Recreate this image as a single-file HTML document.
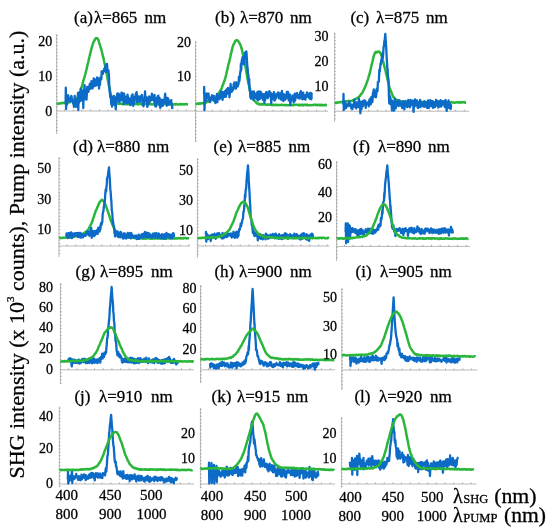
<!DOCTYPE html>
<html><head><meta charset="utf-8"><title>SHG spectra</title><style>html,body{margin:0;padding:0;background:#fff}svg{display:block}svg text{font-family:"Liberation Serif",serif}</style></head><body>
<svg width="550" height="530" viewBox="0 0 550 530">
<rect width="550" height="530" fill="#fff"/>
<g stroke="#b9b9b9" stroke-width="1" fill="none"><line x1="56.6" y1="34" x2="56.6" y2="134" /><line x1="56.6" y1="111" x2="195.5" y2="111" /><line x1="195.5" y1="41" x2="195.5" y2="142" /><line x1="195.5" y1="111.2" x2="328" y2="111.2" /><line x1="334.6" y1="32.4" x2="334.6" y2="122" /><line x1="334.6" y1="111.2" x2="469" y2="111.2" /><line x1="59" y1="157" x2="59" y2="257" /><line x1="59" y1="246" x2="190" y2="246" /><line x1="197.4" y1="158" x2="197.4" y2="258" /><line x1="197.4" y1="246" x2="329.5" y2="246" /><line x1="336.5" y1="161" x2="336.5" y2="261" /><line x1="336.5" y1="246.4" x2="470" y2="246.4" /><line x1="60.4" y1="283" x2="60.4" y2="384" /><line x1="60.4" y1="369.8" x2="194" y2="369.8" /><line x1="200.5" y1="285" x2="200.5" y2="383" /><line x1="200.5" y1="369.8" x2="335" y2="369.8" /><line x1="341.8" y1="288" x2="341.8" y2="390" /><line x1="341.8" y1="370" x2="477.5" y2="370" /><line x1="59.3" y1="406.6" x2="59.3" y2="487" /><line x1="59.3" y1="484" x2="194" y2="484" /><line x1="200.4" y1="408" x2="200.4" y2="487.8" /><line x1="200.4" y1="484" x2="335" y2="484" /><line x1="341.4" y1="417" x2="341.4" y2="487.5" /><line x1="341.4" y1="484" x2="476.5" y2="484" /></g>
<path d="M56.3,35.5h1.5M56.3,38.9h1.5M56.3,42.3h1.5M56.3,45.7h1.5M56.3,49.1h1.5M56.3,52.5h1.5M56.3,55.9h1.5M56.3,59.3h1.5M56.3,62.7h1.5M56.3,66.1h1.5M56.3,69.5h1.5M56.3,72.9h1.5M56.3,76.3h1.5M56.3,79.7h1.5M56.3,83.1h1.5M56.3,86.5h1.5M56.3,89.9h1.5M56.3,93.3h1.5M56.3,96.7h1.5M56.3,100.1h1.5M56.3,103.5h1.5M56.3,106.9h1.5M56.3,110.3h1.5M56.3,113.7h1.5M56.3,117.1h1.5M56.3,120.5h1.5M56.3,123.9h1.5M56.3,127.3h1.5M56.3,130.7h1.5M64.6,109.5v1.5M73.3,109.5v1.5M82.0,109.5v1.5M90.7,109.5v1.5M99.4,109.5v1.5M108.1,109.5v1.5M116.8,109.5v1.5M125.5,109.5v1.5M134.2,109.5v1.5M142.9,109.5v1.5M151.6,109.5v1.5M160.3,109.5v1.5M169.0,109.5v1.5M177.7,109.5v1.5M186.4,109.5v1.5M195.1,109.5v1.5M195.2,42.5h1.5M195.2,45.9h1.5M195.2,49.3h1.5M195.2,52.7h1.5M195.2,56.1h1.5M195.2,59.5h1.5M195.2,62.9h1.5M195.2,66.3h1.5M195.2,69.7h1.5M195.2,73.1h1.5M195.2,76.5h1.5M195.2,79.9h1.5M195.2,83.3h1.5M195.2,86.7h1.5M195.2,90.1h1.5M195.2,93.5h1.5M195.2,96.9h1.5M195.2,100.3h1.5M195.2,103.7h1.5M195.2,107.1h1.5M195.2,110.5h1.5M195.2,113.9h1.5M195.2,117.3h1.5M195.2,120.7h1.5M195.2,124.1h1.5M195.2,127.5h1.5M195.2,130.9h1.5M195.2,134.3h1.5M195.2,137.7h1.5M195.2,141.1h1.5M203.5,109.7v1.5M212.2,109.7v1.5M220.9,109.7v1.5M229.6,109.7v1.5M238.3,109.7v1.5M247.0,109.7v1.5M255.7,109.7v1.5M264.4,109.7v1.5M273.1,109.7v1.5M281.8,109.7v1.5M290.5,109.7v1.5M299.2,109.7v1.5M307.9,109.7v1.5M316.6,109.7v1.5M325.3,109.7v1.5M334.3,33.9h1.5M334.3,37.3h1.5M334.3,40.7h1.5M334.3,44.1h1.5M334.3,47.5h1.5M334.3,50.9h1.5M334.3,54.3h1.5M334.3,57.7h1.5M334.3,61.1h1.5M334.3,64.5h1.5M334.3,67.9h1.5M334.3,71.3h1.5M334.3,74.7h1.5M334.3,78.1h1.5M334.3,81.5h1.5M334.3,84.9h1.5M334.3,88.3h1.5M334.3,91.7h1.5M334.3,95.1h1.5M334.3,98.5h1.5M334.3,101.9h1.5M334.3,105.3h1.5M334.3,108.7h1.5M334.3,112.1h1.5M334.3,115.5h1.5M334.3,118.9h1.5M342.6,109.7v1.5M351.3,109.7v1.5M360.0,109.7v1.5M368.7,109.7v1.5M377.4,109.7v1.5M386.1,109.7v1.5M394.8,109.7v1.5M403.5,109.7v1.5M412.2,109.7v1.5M420.9,109.7v1.5M429.6,109.7v1.5M438.3,109.7v1.5M447.0,109.7v1.5M455.7,109.7v1.5M464.4,109.7v1.5M58.7,158.5h1.5M58.7,161.9h1.5M58.7,165.3h1.5M58.7,168.7h1.5M58.7,172.1h1.5M58.7,175.5h1.5M58.7,178.9h1.5M58.7,182.3h1.5M58.7,185.7h1.5M58.7,189.1h1.5M58.7,192.5h1.5M58.7,195.9h1.5M58.7,199.3h1.5M58.7,202.7h1.5M58.7,206.1h1.5M58.7,209.5h1.5M58.7,212.9h1.5M58.7,216.3h1.5M58.7,219.7h1.5M58.7,223.1h1.5M58.7,226.5h1.5M58.7,229.9h1.5M58.7,233.3h1.5M58.7,236.7h1.5M58.7,240.1h1.5M58.7,243.5h1.5M58.7,246.9h1.5M58.7,250.3h1.5M58.7,253.7h1.5M67.0,244.5v1.5M75.7,244.5v1.5M84.4,244.5v1.5M93.1,244.5v1.5M101.8,244.5v1.5M110.5,244.5v1.5M119.2,244.5v1.5M127.9,244.5v1.5M136.6,244.5v1.5M145.3,244.5v1.5M154.0,244.5v1.5M162.7,244.5v1.5M171.4,244.5v1.5M180.1,244.5v1.5M188.8,244.5v1.5M197.1,159.5h1.5M197.1,162.9h1.5M197.1,166.3h1.5M197.1,169.7h1.5M197.1,173.1h1.5M197.1,176.5h1.5M197.1,179.9h1.5M197.1,183.3h1.5M197.1,186.7h1.5M197.1,190.1h1.5M197.1,193.5h1.5M197.1,196.9h1.5M197.1,200.3h1.5M197.1,203.7h1.5M197.1,207.1h1.5M197.1,210.5h1.5M197.1,213.9h1.5M197.1,217.3h1.5M197.1,220.7h1.5M197.1,224.1h1.5M197.1,227.5h1.5M197.1,230.9h1.5M197.1,234.3h1.5M197.1,237.7h1.5M197.1,241.1h1.5M197.1,244.5h1.5M197.1,247.9h1.5M197.1,251.3h1.5M197.1,254.7h1.5M205.4,244.5v1.5M214.1,244.5v1.5M222.8,244.5v1.5M231.5,244.5v1.5M240.2,244.5v1.5M248.9,244.5v1.5M257.6,244.5v1.5M266.3,244.5v1.5M275.0,244.5v1.5M283.7,244.5v1.5M292.4,244.5v1.5M301.1,244.5v1.5M309.8,244.5v1.5M318.5,244.5v1.5M327.2,244.5v1.5M336.2,162.5h1.5M336.2,165.9h1.5M336.2,169.3h1.5M336.2,172.7h1.5M336.2,176.1h1.5M336.2,179.5h1.5M336.2,182.9h1.5M336.2,186.3h1.5M336.2,189.7h1.5M336.2,193.1h1.5M336.2,196.5h1.5M336.2,199.9h1.5M336.2,203.3h1.5M336.2,206.7h1.5M336.2,210.1h1.5M336.2,213.5h1.5M336.2,216.9h1.5M336.2,220.3h1.5M336.2,223.7h1.5M336.2,227.1h1.5M336.2,230.5h1.5M336.2,233.9h1.5M336.2,237.3h1.5M336.2,240.7h1.5M336.2,244.1h1.5M336.2,247.5h1.5M336.2,250.9h1.5M336.2,254.3h1.5M336.2,257.7h1.5M344.5,244.9v1.5M353.2,244.9v1.5M361.9,244.9v1.5M370.6,244.9v1.5M379.3,244.9v1.5M388.0,244.9v1.5M396.7,244.9v1.5M405.4,244.9v1.5M414.1,244.9v1.5M422.8,244.9v1.5M431.5,244.9v1.5M440.2,244.9v1.5M448.9,244.9v1.5M457.6,244.9v1.5M466.3,244.9v1.5M60.1,284.5h1.5M60.1,287.9h1.5M60.1,291.3h1.5M60.1,294.7h1.5M60.1,298.1h1.5M60.1,301.5h1.5M60.1,304.9h1.5M60.1,308.3h1.5M60.1,311.7h1.5M60.1,315.1h1.5M60.1,318.5h1.5M60.1,321.9h1.5M60.1,325.3h1.5M60.1,328.7h1.5M60.1,332.1h1.5M60.1,335.5h1.5M60.1,338.9h1.5M60.1,342.3h1.5M60.1,345.7h1.5M60.1,349.1h1.5M60.1,352.5h1.5M60.1,355.9h1.5M60.1,359.3h1.5M60.1,362.7h1.5M60.1,366.1h1.5M60.1,369.5h1.5M60.1,372.9h1.5M60.1,376.3h1.5M60.1,379.7h1.5M60.1,383.1h1.5M68.4,368.3v1.5M77.1,368.3v1.5M85.8,368.3v1.5M94.5,368.3v1.5M103.2,368.3v1.5M111.9,368.3v1.5M120.6,368.3v1.5M129.3,368.3v1.5M138.0,368.3v1.5M146.7,368.3v1.5M155.4,368.3v1.5M164.1,368.3v1.5M172.8,368.3v1.5M181.5,368.3v1.5M190.2,368.3v1.5M200.2,286.5h1.5M200.2,289.9h1.5M200.2,293.3h1.5M200.2,296.7h1.5M200.2,300.1h1.5M200.2,303.5h1.5M200.2,306.9h1.5M200.2,310.3h1.5M200.2,313.7h1.5M200.2,317.1h1.5M200.2,320.5h1.5M200.2,323.9h1.5M200.2,327.3h1.5M200.2,330.7h1.5M200.2,334.1h1.5M200.2,337.5h1.5M200.2,340.9h1.5M200.2,344.3h1.5M200.2,347.7h1.5M200.2,351.1h1.5M200.2,354.5h1.5M200.2,357.9h1.5M200.2,361.3h1.5M200.2,364.7h1.5M200.2,368.1h1.5M200.2,371.5h1.5M200.2,374.9h1.5M200.2,378.3h1.5M200.2,381.7h1.5M208.5,368.3v1.5M217.2,368.3v1.5M225.9,368.3v1.5M234.6,368.3v1.5M243.3,368.3v1.5M252.0,368.3v1.5M260.7,368.3v1.5M269.4,368.3v1.5M278.1,368.3v1.5M286.8,368.3v1.5M295.5,368.3v1.5M304.2,368.3v1.5M312.9,368.3v1.5M321.6,368.3v1.5M330.3,368.3v1.5M341.5,289.5h1.5M341.5,292.9h1.5M341.5,296.3h1.5M341.5,299.7h1.5M341.5,303.1h1.5M341.5,306.5h1.5M341.5,309.9h1.5M341.5,313.3h1.5M341.5,316.7h1.5M341.5,320.1h1.5M341.5,323.5h1.5M341.5,326.9h1.5M341.5,330.3h1.5M341.5,333.7h1.5M341.5,337.1h1.5M341.5,340.5h1.5M341.5,343.9h1.5M341.5,347.3h1.5M341.5,350.7h1.5M341.5,354.1h1.5M341.5,357.5h1.5M341.5,360.9h1.5M341.5,364.3h1.5M341.5,367.7h1.5M341.5,371.1h1.5M341.5,374.5h1.5M341.5,377.9h1.5M341.5,381.3h1.5M341.5,384.7h1.5M341.5,388.1h1.5M349.8,368.5v1.5M358.5,368.5v1.5M367.2,368.5v1.5M375.9,368.5v1.5M384.6,368.5v1.5M393.3,368.5v1.5M402.0,368.5v1.5M410.7,368.5v1.5M419.4,368.5v1.5M428.1,368.5v1.5M436.8,368.5v1.5M445.5,368.5v1.5M454.2,368.5v1.5M462.9,368.5v1.5M471.6,368.5v1.5M59.0,408.1h1.5M59.0,411.5h1.5M59.0,414.9h1.5M59.0,418.3h1.5M59.0,421.7h1.5M59.0,425.1h1.5M59.0,428.5h1.5M59.0,431.9h1.5M59.0,435.3h1.5M59.0,438.7h1.5M59.0,442.1h1.5M59.0,445.5h1.5M59.0,448.9h1.5M59.0,452.3h1.5M59.0,455.7h1.5M59.0,459.1h1.5M59.0,462.5h1.5M59.0,465.9h1.5M59.0,469.3h1.5M59.0,472.7h1.5M59.0,476.1h1.5M59.0,479.5h1.5M59.0,482.9h1.5M59.0,486.3h1.5M67.3,482.5v1.5M76.0,482.5v1.5M84.7,482.5v1.5M93.4,482.5v1.5M102.1,482.5v1.5M110.8,482.5v1.5M119.5,482.5v1.5M128.2,482.5v1.5M136.9,482.5v1.5M145.6,482.5v1.5M154.3,482.5v1.5M163.0,482.5v1.5M171.7,482.5v1.5M180.4,482.5v1.5M189.1,482.5v1.5M200.1,409.5h1.5M200.1,412.9h1.5M200.1,416.3h1.5M200.1,419.7h1.5M200.1,423.1h1.5M200.1,426.5h1.5M200.1,429.9h1.5M200.1,433.3h1.5M200.1,436.7h1.5M200.1,440.1h1.5M200.1,443.5h1.5M200.1,446.9h1.5M200.1,450.3h1.5M200.1,453.7h1.5M200.1,457.1h1.5M200.1,460.5h1.5M200.1,463.9h1.5M200.1,467.3h1.5M200.1,470.7h1.5M200.1,474.1h1.5M200.1,477.5h1.5M200.1,480.9h1.5M200.1,484.3h1.5M200.1,487.7h1.5M208.4,482.5v1.5M217.1,482.5v1.5M225.8,482.5v1.5M234.5,482.5v1.5M243.2,482.5v1.5M251.9,482.5v1.5M260.6,482.5v1.5M269.3,482.5v1.5M278.0,482.5v1.5M286.7,482.5v1.5M295.4,482.5v1.5M304.1,482.5v1.5M312.8,482.5v1.5M321.5,482.5v1.5M330.2,482.5v1.5M341.1,418.5h1.5M341.1,421.9h1.5M341.1,425.3h1.5M341.1,428.7h1.5M341.1,432.1h1.5M341.1,435.5h1.5M341.1,438.9h1.5M341.1,442.3h1.5M341.1,445.7h1.5M341.1,449.1h1.5M341.1,452.5h1.5M341.1,455.9h1.5M341.1,459.3h1.5M341.1,462.7h1.5M341.1,466.1h1.5M341.1,469.5h1.5M341.1,472.9h1.5M341.1,476.3h1.5M341.1,479.7h1.5M341.1,483.1h1.5M341.1,486.5h1.5M349.4,482.5v1.5M358.1,482.5v1.5M366.8,482.5v1.5M375.5,482.5v1.5M384.2,482.5v1.5M392.9,482.5v1.5M401.6,482.5v1.5M410.3,482.5v1.5M419.0,482.5v1.5M427.7,482.5v1.5M436.4,482.5v1.5M445.1,482.5v1.5M453.8,482.5v1.5M462.5,482.5v1.5M471.2,482.5v1.5" stroke="#a0a0a0" stroke-width="0.9" fill="none"/>
<path d="M56.60,103.73 L57.20,103.57 L57.80,103.88 L58.40,103.40 L59.00,103.65 L59.60,103.46 L60.20,103.17 L60.80,103.41 L61.40,103.00 L62.00,103.20 L62.60,102.87 L63.20,102.81 L63.80,102.97 L64.40,103.18 L65.00,102.60 L65.60,102.58 L66.20,102.76 L66.80,102.87 L67.40,102.49 L68.00,102.24 L68.60,102.52 L69.20,101.75 L69.80,102.20 L70.40,101.68 L71.00,101.44 L71.60,101.25 L72.20,101.18 L72.80,101.30 L73.40,100.58 L74.00,100.56 L74.60,100.30 L75.20,99.81 L75.80,99.63 L76.40,98.81 L77.00,98.15 L77.60,97.41 L78.20,96.73 L78.80,95.23 L79.40,93.69 L80.00,92.27 L80.60,90.42 L81.20,88.38 L81.80,86.72 L82.40,84.60 L83.00,82.17 L83.60,80.23 L84.20,78.02 L84.80,76.08 L85.40,73.77 L86.00,71.17 L86.60,69.29 L87.20,66.25 L87.80,63.93 L88.40,61.59 L89.00,58.60 L89.60,56.27 L90.20,53.44 L90.80,51.39 L91.40,49.00 L92.00,46.60 L92.60,44.84 L93.20,42.77 L93.80,41.64 L94.40,40.47 L95.00,39.50 L95.60,38.45 L96.20,38.18 L96.80,38.21 L97.40,38.34 L98.00,39.44 L98.60,40.48 L99.20,42.58 L99.80,44.34 L100.40,46.53 L101.00,48.52 L101.60,50.43 L102.20,52.93 L102.80,55.64 L103.40,57.79 L104.00,60.77 L104.60,63.30 L105.20,66.12 L105.80,69.04 L106.40,72.61 L107.00,75.35 L107.60,78.71 L108.20,81.97 L108.80,85.31 L109.40,87.60 L110.00,90.55 L110.60,93.16 L111.20,95.65 L111.80,97.47 L112.40,98.98 L113.00,99.65 L113.60,100.44 L114.20,100.97 L114.80,101.90 L115.40,102.52 L116.00,102.48 L116.60,102.92 L117.20,103.27 L117.80,103.47 L118.40,103.74 L119.00,103.84 L119.60,103.63 L120.20,103.48 L120.80,103.79 L121.40,103.78 L122.00,103.94 L122.60,104.23 L123.20,104.07 L123.80,103.97 L124.40,104.07 L125.00,104.13 L125.60,103.72 L126.20,104.33 L126.80,104.27 L127.40,104.36 L128.00,104.33 L128.60,104.07 L129.20,104.10 L129.80,103.90 L130.40,104.29 L131.00,103.89 L131.60,103.90 L132.20,104.00 L132.80,103.96 L133.40,104.09 L134.00,103.89 L134.60,103.85 L135.20,103.96 L135.80,103.92 L136.40,104.10 L137.00,103.87 L137.60,104.46 L138.20,104.28 L138.80,103.95 L139.40,104.03 L140.00,104.09 L140.60,104.10 L141.20,103.94 L141.80,104.44 L142.40,104.55 L143.00,104.18 L143.60,104.19 L144.20,103.91 L144.80,103.92 L145.40,104.09 L146.00,104.04 L146.60,104.43 L147.20,103.96 L147.80,103.87 L148.40,104.52 L149.00,104.22 L149.60,103.95 L150.20,104.23 L150.80,103.87 L151.40,104.22 L152.00,104.53 L152.60,104.45 L153.20,104.34 L153.80,104.03 L154.40,104.11 L155.00,103.97 L155.60,104.39 L156.20,104.22 L156.80,104.40 L157.40,104.08 L158.00,104.01 L158.60,104.42 L159.20,104.54 L159.80,104.45 L160.40,104.41 L161.00,104.42 L161.60,104.37 L162.20,104.01 L162.80,104.21 L163.40,104.10 L164.00,103.87 L164.60,103.87 L165.20,104.05 L165.80,104.03 L166.40,104.33 L167.00,104.52 L167.60,104.16 L168.20,104.51 L168.80,104.54 L169.40,104.52 L170.00,104.11 L170.60,104.00 L171.20,104.01 L171.80,103.99 L172.40,103.99 L173.00,104.29 L173.60,104.48 L174.20,104.44 L174.80,104.19 L175.40,104.31 L176.00,104.41 L176.60,103.91 L177.20,104.31 L177.80,104.49 L178.40,104.40 L179.00,104.38 L179.60,104.18 L180.20,103.97 L180.80,104.40 L181.40,104.08 L182.00,104.41 L182.60,104.53 L183.20,104.13 L183.80,104.13 L184.40,104.51 L185.00,104.36 L185.60,103.97 L186.20,103.94 L186.80,103.96 L187.40,104.48 L188.00,104.41" stroke="#2ab53b" stroke-width="2.5" fill="none" stroke-linejoin="round"/>
<path d="M65.60,103.39 L65.80,87.70 L66.10,109.00 L66.40,99.06 L66.36,94.52 L66.74,100.61 L67.12,104.18 L67.50,96.96 L67.88,100.00 L68.26,95.36 L68.64,98.72 L69.02,99.88 L69.40,101.11 L69.78,98.78 L70.16,101.41 L70.54,101.10 L70.92,98.87 L71.30,95.84 L71.68,97.10 L72.00,100.42 L72.06,100.61 L72.44,101.16 L72.82,101.04 L73.20,103.93 L73.58,100.20 L73.96,106.97 L74.34,100.89 L74.72,95.82 L75.10,105.07 L75.48,102.84 L75.86,106.73 L76.24,101.46 L76.62,106.66 L77.00,102.18 L77.38,98.45 L77.76,99.05 L78.00,93.00 L78.30,110.00 L78.60,95.17 L78.52,92.56 L78.90,103.02 L79.28,92.41 L79.66,92.67 L80.04,101.22 L80.42,101.05 L80.80,88.66 L81.18,100.47 L81.56,92.50 L81.94,99.28 L82.32,95.68 L82.70,90.71 L83.00,92.00 L83.30,108.00 L83.60,89.97 L83.46,89.93 L83.84,95.69 L84.22,90.05 L84.60,85.14 L84.80,91.66 L84.98,94.73 L85.36,99.08 L85.74,90.05 L86.12,96.15 L86.50,99.69 L86.88,93.67 L87.26,86.98 L87.64,90.89 L88.00,89.40 L88.02,88.10 L88.40,91.86 L88.78,89.82 L89.16,87.97 L89.54,85.33 L89.92,83.79 L90.30,85.72 L90.68,88.68 L91.06,86.75 L91.30,85.81 L91.44,81.19 L91.82,86.29 L92.20,82.77 L92.58,88.34 L92.96,84.85 L93.34,85.09 L93.72,78.35 L94.00,79.36 L94.10,85.41 L94.48,86.12 L94.86,80.01 L95.24,84.38 L95.62,80.93 L96.00,85.70 L96.38,78.87 L96.76,84.98 L97.14,77.47 L97.52,83.58 L97.70,80.22 L97.90,81.82 L98.28,79.79 L98.66,78.53 L99.04,88.58 L99.42,78.96 L99.80,81.27 L100.00,84.95 L100.18,80.68 L100.56,77.09 L100.94,78.70 L101.32,79.32 L101.70,71.40 L102.08,72.31 L102.46,74.23 L102.50,71.76 L102.84,73.89 L103.22,72.33 L103.60,71.48 L103.98,69.39 L104.00,69.00 L104.36,69.08 L104.74,68.82 L105.12,70.60 L105.50,65.22 L105.88,71.88 L106.26,66.31 L106.64,69.35 L107.00,64.26 L107.02,63.98 L107.40,68.47 L107.78,70.07 L108.16,72.39 L108.50,70.44 L108.54,72.74 L108.92,73.88 L109.30,86.95 L109.68,92.11 L109.70,88.95 L110.06,95.67 L110.44,97.72 L110.82,95.60 L111.20,104.31 L111.30,102.47 L111.58,101.03 L111.96,106.68 L112.34,101.12 L112.72,96.87 L113.10,102.69 L113.48,104.60 L113.86,95.95 L114.24,96.31 L114.62,103.63 L115.00,104.44 L115.38,105.42 L115.76,109.26 L116.14,97.38 L116.52,98.98 L116.90,96.67 L117.28,93.58 L117.66,93.49 L118.04,96.74 L118.42,101.38 L118.80,93.81 L119.18,95.69 L119.56,102.12 L119.94,96.92 L120.32,99.68 L120.70,99.75 L121.08,99.64 L121.46,92.64 L121.84,100.10 L122.22,100.42 L122.60,93.04 L122.98,98.69 L123.36,95.63 L123.74,104.21 L124.12,93.76 L124.50,102.40 L124.88,98.22 L125.26,102.25 L125.64,96.70 L126.02,97.94 L126.40,101.19 L126.78,99.26 L127.16,103.33 L127.54,94.68 L127.92,97.32 L128.30,100.54 L128.68,97.53 L129.06,103.27 L129.44,102.24 L129.82,99.38 L130.20,105.04 L130.58,105.17 L130.96,101.61 L131.34,98.46 L131.72,95.57 L132.10,97.10 L132.48,94.35 L132.86,96.16 L133.24,105.83 L133.62,99.27 L134.00,99.43 L134.38,102.99 L134.76,97.02 L135.14,98.29 L135.52,96.13 L135.90,93.32 L136.28,97.91 L136.66,92.16 L137.04,102.19 L137.42,95.44 L137.80,102.21 L138.18,97.79 L138.56,96.71 L138.94,96.63 L139.32,98.08 L139.70,96.75 L140.08,101.85 L140.46,97.04 L140.84,96.26 L141.22,100.04 L141.60,97.44 L141.98,95.03 L142.36,99.17 L142.74,104.37 L143.12,98.47 L143.50,106.35 L143.88,102.50 L144.26,102.94 L144.64,99.02 L145.02,91.40 L145.40,96.97 L145.78,100.79 L146.16,100.27 L146.54,98.88 L146.92,97.48 L147.30,106.92 L147.68,104.80 L148.06,102.81 L148.44,103.34 L148.82,103.73 L149.20,96.28 L149.58,98.33 L149.96,101.36 L150.00,98.61 L150.34,100.68 L150.72,98.66 L151.10,97.25 L151.48,100.07 L151.86,93.70 L152.24,96.31 L152.62,99.83 L153.00,96.19 L153.38,95.95 L153.76,95.59 L154.14,101.75 L154.52,95.00 L154.90,104.33 L155.28,106.15 L155.66,98.69 L156.04,106.53 L156.42,103.67 L156.80,97.91 L157.18,102.99 L157.56,96.51 L157.94,98.64 L158.32,95.54 L158.70,99.67 L159.08,104.59 L159.46,97.56 L159.84,103.01 L160.22,107.82 L160.60,107.09 L160.98,101.31 L161.36,99.60 L161.74,101.85 L162.12,100.42 L162.50,105.80 L162.88,105.49 L163.26,99.78 L163.64,103.87 L164.02,101.03 L164.40,102.55 L164.78,97.70 L165.16,93.74 L165.54,97.75 L165.92,100.34 L166.30,99.33 L166.68,105.75 L167.06,104.72 L167.44,97.82 L167.82,98.20 L168.20,98.70 L168.58,100.01 L168.96,104.56 L169.34,103.85 L169.72,102.64 L170.10,101.96 L170.48,101.20 L170.86,102.38 L171.24,100.05 L171.62,105.55 L172.00,105.68 L172.38,109.07" stroke="#0b6bc6" stroke-width="2.3" fill="none" stroke-linejoin="round"/>
<path d="M195.50,104.23 L196.10,104.18 L196.70,103.58 L197.30,103.81 L197.90,103.51 L198.50,103.95 L199.10,103.84 L199.70,103.33 L200.30,103.23 L200.90,103.70 L201.50,103.13 L202.10,103.20 L202.70,103.28 L203.30,103.06 L203.90,103.29 L204.50,103.21 L205.10,103.08 L205.70,102.77 L206.30,102.32 L206.90,102.02 L207.50,101.81 L208.10,101.20 L208.70,100.96 L209.30,101.36 L209.90,100.61 L210.50,100.81 L211.10,100.49 L211.70,99.97 L212.30,99.85 L212.90,99.59 L213.50,98.98 L214.10,98.45 L214.70,97.97 L215.30,97.69 L215.90,96.64 L216.50,96.46 L217.10,95.52 L217.70,94.30 L218.30,93.62 L218.90,93.23 L219.50,92.03 L220.10,91.09 L220.70,89.95 L221.30,89.21 L221.90,87.66 L222.50,85.64 L223.10,84.55 L223.70,82.63 L224.30,81.06 L224.90,79.37 L225.50,77.24 L226.10,74.98 L226.70,72.34 L227.30,69.67 L227.90,67.06 L228.50,64.36 L229.10,62.39 L229.70,59.73 L230.30,56.96 L230.90,53.81 L231.50,51.58 L232.10,49.11 L232.70,46.93 L233.30,44.94 L233.90,43.97 L234.50,42.75 L235.10,41.39 L235.70,40.64 L236.30,40.15 L236.90,40.12 L237.50,40.77 L238.10,40.73 L238.70,41.82 L239.30,42.79 L239.90,43.84 L240.50,45.15 L241.10,46.78 L241.70,48.81 L242.30,51.45 L242.90,53.96 L243.50,56.07 L244.10,59.38 L244.70,62.21 L245.30,65.76 L245.90,68.92 L246.50,72.90 L247.10,76.46 L247.70,79.75 L248.30,82.55 L248.90,85.07 L249.50,87.66 L250.10,90.12 L250.70,92.35 L251.30,94.74 L251.90,95.98 L252.50,97.57 L253.10,98.45 L253.70,99.59 L254.30,100.40 L254.90,101.22 L255.50,101.67 L256.10,102.65 L256.70,102.96 L257.30,103.50 L257.90,103.56 L258.50,104.23 L259.10,104.40 L259.70,103.94 L260.30,103.93 L260.90,104.50 L261.50,104.42 L262.10,104.26 L262.70,104.64 L263.30,104.37 L263.90,104.09 L264.50,104.28 L265.10,104.15 L265.70,104.77 L266.30,104.78 L266.90,104.71 L267.50,104.52 L268.10,104.71 L268.70,104.55 L269.30,104.54 L269.90,104.66 L270.50,104.77 L271.10,104.55 L271.70,105.15 L272.30,104.94 L272.90,105.19 L273.50,104.65 L274.10,105.01 L274.70,105.10 L275.30,105.06 L275.90,104.67 L276.50,105.06 L277.10,105.02 L277.70,105.26 L278.30,104.97 L278.90,105.04 L279.50,104.88 L280.10,104.97 L280.70,105.13 L281.30,104.83 L281.90,104.81 L282.50,104.88 L283.10,105.10 L283.70,105.14 L284.30,105.01 L284.90,104.84 L285.50,105.18 L286.10,105.23 L286.70,105.08 L287.30,105.16 L287.90,105.33 L288.50,105.16 L289.10,105.07 L289.70,104.89 L290.30,104.82 L290.90,105.32 L291.50,104.83 L292.10,105.32 L292.70,105.35 L293.30,104.77 L293.90,105.11 L294.50,104.79 L295.10,104.76 L295.70,104.75 L296.30,104.86 L296.90,104.86 L297.50,104.84 L298.10,104.73 L298.70,105.29 L299.30,104.85 L299.90,105.27 L300.50,104.97 L301.10,104.66 L301.70,105.25 L302.30,104.96 L302.90,104.81 L303.50,105.34 L304.10,104.86 L304.70,104.67 L305.30,104.83 L305.90,105.17 L306.50,104.65 L307.10,104.82 L307.70,105.25 L308.30,105.14 L308.90,105.06 L309.50,105.10 L310.10,105.24 L310.70,105.12 L311.30,105.11 L311.90,105.26 L312.50,105.10 L313.10,105.06 L313.70,104.81 L314.30,104.78 L314.90,104.74 L315.50,104.95 L316.10,104.83 L316.70,105.14 L317.30,105.28 L317.90,104.82 L318.50,104.93 L319.10,105.15 L319.70,104.76 L320.30,105.24 L320.90,104.99 L321.50,104.66 L322.10,105.25 L322.70,105.01 L323.30,105.11 L323.90,105.26 L324.50,105.28 L325.10,104.88 L325.70,104.66 L326.30,105.23 L326.90,105.29" stroke="#2ab53b" stroke-width="2.5" fill="none" stroke-linejoin="round"/>
<path d="M204.00,94.07 L204.20,87.00 L204.50,110.00 L204.80,101.16 L204.76,99.93 L205.14,99.97 L205.52,100.32 L205.90,96.06 L206.28,100.58 L206.66,93.39 L207.04,93.94 L207.42,94.48 L207.80,97.71 L208.18,93.56 L208.56,93.61 L208.94,100.06 L209.32,97.92 L209.70,97.36 L210.00,102.22 L210.08,99.03 L210.46,98.06 L210.84,97.46 L211.22,98.99 L211.60,97.13 L211.98,95.28 L212.36,96.26 L212.74,97.68 L213.12,98.80 L213.50,100.17 L213.88,95.81 L214.26,101.28 L214.64,100.68 L215.02,98.34 L215.40,102.98 L215.78,100.19 L216.16,99.05 L216.54,101.09 L216.92,93.86 L217.30,98.26 L217.40,102.22 L217.68,94.85 L218.06,95.40 L218.44,98.77 L218.82,97.78 L219.20,95.78 L219.58,99.22 L219.96,97.17 L220.34,93.71 L220.72,91.74 L221.10,97.67 L221.48,94.45 L221.86,91.64 L222.24,95.25 L222.62,99.92 L223.00,95.49 L223.38,96.61 L223.76,92.21 L224.14,95.91 L224.52,94.51 L224.90,96.96 L225.28,90.78 L225.66,93.57 L226.04,96.63 L226.42,89.45 L226.80,90.92 L227.00,94.02 L227.18,91.11 L227.56,92.16 L227.94,87.81 L228.32,93.11 L228.70,93.42 L229.08,89.27 L229.46,97.24 L229.84,93.75 L230.22,89.64 L230.60,84.02 L230.98,88.13 L231.36,88.10 L231.74,91.76 L232.12,91.05 L232.50,89.94 L232.88,87.58 L233.26,89.64 L233.50,88.17 L233.64,84.04 L234.02,88.00 L234.40,82.39 L234.78,85.10 L235.16,83.02 L235.54,83.58 L235.92,88.67 L236.30,82.42 L236.68,86.74 L237.06,84.64 L237.44,84.78 L237.82,86.39 L238.20,83.58 L238.30,84.32 L238.58,83.96 L238.96,76.61 L239.34,81.44 L239.72,78.24 L240.10,73.45 L240.48,70.57 L240.70,71.65 L240.86,63.85 L241.24,69.97 L241.62,61.60 L242.00,59.47 L242.30,59.15 L242.38,58.30 L242.76,56.89 L243.14,58.85 L243.52,63.24 L243.90,64.32 L244.28,58.93 L244.66,59.33 L245.04,52.53 L245.42,54.68 L245.80,54.13 L246.18,52.78 L246.30,51.50 L246.56,53.61 L246.94,60.12 L247.32,66.71 L247.70,69.05 L247.90,73.60 L248.08,73.59 L248.46,75.91 L248.84,84.11 L249.22,79.16 L249.60,90.74 L249.98,88.07 L250.30,97.32 L250.36,91.69 L250.74,97.81 L251.12,98.72 L251.50,93.69 L251.88,92.87 L252.26,91.79 L252.64,97.32 L253.02,93.82 L253.40,99.99 L253.78,91.30 L254.16,95.28 L254.54,94.52 L254.92,93.50 L255.30,96.74 L255.68,97.95 L256.06,95.74 L256.44,93.40 L256.82,99.14 L257.20,94.73 L257.58,91.85 L257.96,100.55 L258.34,93.15 L258.72,96.16 L259.10,91.34 L259.48,95.08 L259.86,99.03 L260.00,92.38 L260.24,98.30 L260.62,91.55 L261.00,93.38 L261.38,97.69 L261.76,93.40 L262.14,95.84 L262.52,98.22 L262.90,99.70 L263.28,98.83 L263.66,94.16 L264.04,95.87 L264.42,102.71 L264.80,94.10 L265.18,100.08 L265.56,97.94 L265.94,92.97 L266.32,92.03 L266.70,93.04 L267.08,92.82 L267.46,96.94 L267.84,98.14 L268.22,95.60 L268.60,92.21 L268.98,96.00 L269.36,91.04 L269.74,92.45 L270.12,95.25 L270.50,92.52 L270.88,98.09 L271.26,103.50 L271.64,93.80 L272.02,99.43 L272.40,95.25 L272.78,96.01 L273.16,96.99 L273.54,96.14 L273.92,92.20 L274.30,100.25 L274.68,100.55 L275.06,97.04 L275.44,94.29 L275.82,98.49 L276.20,96.64 L276.58,94.77 L276.96,96.38 L277.34,93.65 L277.72,92.78 L278.10,93.25 L278.48,92.52 L278.86,98.32 L279.24,97.02 L279.62,95.99 L280.00,96.36 L280.38,93.44 L280.76,99.41 L281.14,95.44 L281.52,99.74 L281.90,90.94 L282.28,94.38 L282.66,98.95 L283.04,96.90 L283.42,101.02 L283.80,94.17 L284.18,95.50 L284.56,99.49 L284.94,95.50 L285.32,99.53 L285.70,95.66 L286.08,94.59 L286.46,97.99 L286.84,91.99 L287.22,94.28 L287.60,96.13 L287.98,91.96 L288.36,96.60 L288.74,100.27 L289.12,94.63 L289.50,100.75 L289.88,94.33 L290.26,105.22 L290.64,100.72 L291.02,101.46 L291.40,98.62 L291.78,97.38 L292.16,99.27 L292.54,95.34 L292.92,97.33 L293.30,97.72 L293.68,102.38 L294.06,100.59 L294.44,101.39 L294.82,93.53 L295.20,100.34 L295.58,97.57 L295.96,97.55 L296.34,93.66 L296.72,95.50 L297.10,93.03 L297.48,96.06 L297.86,94.58 L298.24,98.16 L298.62,97.14 L299.00,97.34 L299.38,96.39 L299.76,98.58 L300.14,92.39 L300.52,97.48 L300.90,91.04 L301.28,97.20 L301.66,92.64 L302.04,96.92 L302.42,99.31 L302.80,96.94 L303.18,92.62 L303.56,95.98 L303.94,96.53 L304.32,99.13 L304.70,97.08 L305.08,95.42 L305.46,99.68 L305.84,94.93 L306.22,95.65 L306.60,96.75 L306.98,92.39 L307.36,95.91 L307.74,94.46 L308.12,96.83 L308.50,96.66 L308.88,97.68 L309.26,98.01 L309.64,93.20 L310.02,98.84 L310.40,96.35 L310.78,93.01 L311.16,99.46 L311.54,93.48 L311.60,98.64" stroke="#0b6bc6" stroke-width="2.3" fill="none" stroke-linejoin="round"/>
<path d="M334.60,102.93 L335.20,102.91 L335.80,102.68 L336.40,102.95 L337.00,102.60 L337.60,102.71 L338.20,102.57 L338.80,102.31 L339.40,102.28 L340.00,101.99 L340.60,101.97 L341.20,102.37 L341.80,101.91 L342.40,102.07 L343.00,101.61 L343.60,101.84 L344.20,101.62 L344.80,101.64 L345.40,101.41 L346.00,101.17 L346.60,101.26 L347.20,101.12 L347.80,100.97 L348.40,101.30 L349.00,100.92 L349.60,100.92 L350.20,101.19 L350.80,101.02 L351.40,101.01 L352.00,100.92 L352.60,100.27 L353.20,100.17 L353.80,99.74 L354.40,99.88 L355.00,99.49 L355.60,98.90 L356.20,98.56 L356.80,98.36 L357.40,98.01 L358.00,97.32 L358.60,97.33 L359.20,96.47 L359.80,96.05 L360.40,95.01 L361.00,94.13 L361.60,93.79 L362.20,92.76 L362.80,91.85 L363.40,90.43 L364.00,89.33 L364.60,88.16 L365.20,86.78 L365.80,85.30 L366.40,83.70 L367.00,81.81 L367.60,80.27 L368.20,78.61 L368.80,76.24 L369.40,74.50 L370.00,71.96 L370.60,69.61 L371.20,66.81 L371.80,64.42 L372.40,62.04 L373.00,59.21 L373.60,56.34 L374.20,54.83 L374.80,53.34 L375.40,52.18 L376.00,51.75 L376.60,52.47 L377.20,52.30 L377.80,51.73 L378.40,51.72 L379.00,51.59 L379.60,52.31 L380.20,52.48 L380.80,54.11 L381.40,55.47 L382.00,56.82 L382.60,59.39 L383.20,61.60 L383.80,64.26 L384.40,66.73 L385.00,68.75 L385.60,71.01 L386.20,74.03 L386.80,76.09 L387.40,78.89 L388.00,81.18 L388.60,83.69 L389.20,86.09 L389.80,88.09 L390.40,89.90 L391.00,91.34 L391.60,93.32 L392.20,94.55 L392.80,95.84 L393.40,97.18 L394.00,97.48 L394.60,98.59 L395.20,98.60 L395.80,99.57 L396.40,100.15 L397.00,100.25 L397.60,100.84 L398.20,101.43 L398.80,101.40 L399.40,101.45 L400.00,101.29 L400.60,101.21 L401.20,101.47 L401.80,101.55 L402.40,101.46 L403.00,101.58 L403.60,101.51 L404.20,101.96 L404.80,101.99 L405.40,101.73 L406.00,101.79 L406.60,102.03 L407.20,102.03 L407.80,102.42 L408.40,102.06 L409.00,102.07 L409.60,102.52 L410.20,102.03 L410.80,102.34 L411.40,102.19 L412.00,102.52 L412.60,102.34 L413.20,102.49 L413.80,102.08 L414.40,102.42 L415.00,102.38 L415.60,102.28 L416.20,102.50 L416.80,102.54 L417.40,102.04 L418.00,102.17 L418.60,102.22 L419.20,102.11 L419.80,102.01 L420.40,102.17 L421.00,102.11 L421.60,102.46 L422.20,102.29 L422.80,102.05 L423.40,102.20 L424.00,102.30 L424.60,102.23 L425.20,102.09 L425.80,102.03 L426.40,101.99 L427.00,102.67 L427.60,102.51 L428.20,102.04 L428.80,102.49 L429.40,102.67 L430.00,102.38 L430.60,102.06 L431.20,102.33 L431.80,102.29 L432.40,102.12 L433.00,102.37 L433.60,102.00 L434.20,102.64 L434.80,102.45 L435.40,102.43 L436.00,102.65 L436.60,102.45 L437.20,102.17 L437.80,102.17 L438.40,102.10 L439.00,102.02 L439.60,102.54 L440.20,102.59 L440.80,102.21 L441.40,102.14 L442.00,102.45 L442.60,102.60 L443.20,102.66 L443.80,102.13 L444.40,102.56 L445.00,102.59 L445.60,102.53 L446.20,102.24 L446.80,102.14 L447.40,102.59 L448.00,102.24 L448.60,102.28 L449.20,102.41 L449.80,102.28 L450.40,102.60 L451.00,102.19 L451.60,102.05 L452.20,102.42 L452.80,102.47 L453.40,102.60 L454.00,102.52 L454.60,102.66 L455.20,102.69 L455.80,102.38 L456.40,102.38 L457.00,102.14 L457.60,102.24 L458.20,102.44 L458.80,102.09 L459.40,102.52 L460.00,102.15 L460.60,102.35 L461.20,102.72 L461.80,102.10 L462.40,102.07 L463.00,102.35 L463.60,102.18 L464.20,102.55 L464.80,102.05 L465.40,102.64 L466.00,102.65" stroke="#2ab53b" stroke-width="2.5" fill="none" stroke-linejoin="round"/>
<path d="M343.30,104.55 L343.50,94.00 L343.80,110.00 L344.10,105.53 L344.06,104.32 L344.44,108.92 L344.82,104.35 L345.20,101.83 L345.58,103.65 L345.96,108.09 L346.34,106.99 L346.72,106.11 L347.10,104.70 L347.48,105.35 L347.86,104.16 L348.24,106.07 L348.62,105.09 L349.00,102.06 L349.38,101.40 L349.76,105.22 L350.14,105.41 L350.52,106.34 L350.90,104.77 L351.28,108.39 L351.66,107.15 L352.04,104.53 L352.42,109.02 L352.80,106.26 L353.18,106.56 L353.56,104.86 L353.94,105.60 L354.32,99.61 L354.70,104.34 L355.08,107.16 L355.46,102.46 L355.84,104.13 L356.22,108.47 L356.60,102.36 L356.98,104.60 L357.36,106.97 L357.74,102.49 L358.12,106.33 L358.50,106.97 L358.88,98.65 L359.26,102.07 L359.64,101.55 L360.02,104.06 L360.40,113.33 L360.78,101.82 L361.16,105.84 L361.54,109.24 L361.92,102.66 L362.30,103.63 L362.68,101.09 L363.06,106.16 L363.44,102.92 L363.82,101.53 L364.20,100.37 L364.58,104.14 L364.96,101.41 L365.00,102.66 L365.34,100.80 L365.72,107.90 L366.10,102.70 L366.48,104.52 L366.86,103.83 L367.24,104.19 L367.62,103.07 L367.70,103.13 L368.00,103.08 L368.38,101.98 L368.76,106.35 L369.14,104.14 L369.52,99.35 L369.90,101.59 L370.28,98.72 L370.66,104.45 L371.04,102.72 L371.42,97.00 L371.80,100.59 L372.18,102.25 L372.50,101.32 L372.56,99.44 L372.94,92.76 L373.32,95.25 L373.70,89.43 L374.08,96.74 L374.46,90.51 L374.84,96.63 L375.22,91.80 L375.60,95.56 L375.98,97.24 L376.36,93.45 L376.50,92.67 L376.74,88.76 L377.12,88.90 L377.50,91.14 L377.88,82.09 L378.26,81.76 L378.64,81.59 L378.90,81.63 L379.02,77.15 L379.40,69.57 L379.78,71.66 L380.16,67.49 L380.54,63.28 L380.92,64.35 L381.30,59.52 L381.68,62.10 L382.06,56.48 L382.44,53.47 L382.82,57.99 L382.90,57.41 L383.20,53.65 L383.58,47.38 L383.96,45.87 L384.34,41.01 L384.72,40.26 L385.10,35.56 L385.30,34.00 L385.48,36.78 L385.86,42.78 L386.24,47.94 L386.62,56.29 L387.00,62.70 L387.38,69.41 L387.70,69.22 L387.76,73.77 L388.14,78.12 L388.52,79.80 L388.90,96.26 L389.28,103.48 L389.30,95.17 L389.66,101.51 L390.04,96.26 L390.42,97.48 L390.80,104.45 L391.18,100.37 L391.56,103.07 L391.94,110.41 L392.00,108.67 L392.32,100.54 L392.70,105.79 L393.08,105.95 L393.46,102.88 L393.84,110.74 L394.22,109.36 L394.60,103.97 L394.98,98.83 L395.36,104.56 L395.74,108.39 L396.12,103.24 L396.50,104.77 L396.88,102.17 L397.26,104.68 L397.64,104.17 L398.02,100.25 L398.40,106.22 L398.78,104.44 L399.16,103.80 L399.54,100.43 L399.92,105.41 L400.30,103.99 L400.68,105.34 L401.06,105.85 L401.44,104.23 L401.82,103.15 L402.20,108.06 L402.58,105.21 L402.96,101.16 L403.34,104.40 L403.72,102.70 L404.10,105.14 L404.48,109.26 L404.86,103.49 L405.24,101.97 L405.62,100.99 L406.00,105.15 L406.38,102.93 L406.76,103.88 L407.14,107.12 L407.52,104.06 L407.90,103.24 L408.28,99.93 L408.66,100.44 L409.04,102.74 L409.42,106.71 L409.80,107.26 L410.18,106.47 L410.56,99.88 L410.94,105.24 L411.32,104.59 L411.70,102.17 L412.08,101.71 L412.46,103.67 L412.84,100.59 L413.22,104.09 L413.60,111.86 L413.98,104.61 L414.36,100.50 L414.74,101.08 L415.12,99.32 L415.50,105.73 L415.88,100.33 L416.26,100.34 L416.64,100.66 L417.02,100.50 L417.40,104.70 L417.78,107.87 L418.16,108.05 L418.54,102.21 L418.92,102.00 L419.30,101.91 L419.68,102.81 L420.06,99.92 L420.44,107.20 L420.82,101.14 L421.20,103.38 L421.58,102.72 L421.96,102.82 L422.34,103.18 L422.72,106.23 L423.10,105.73 L423.48,104.16 L423.86,106.56 L424.24,101.15 L424.62,106.54 L425.00,105.89 L425.38,106.50 L425.76,102.24 L426.14,106.00 L426.52,104.82 L426.90,106.11 L427.28,108.10 L427.66,103.58 L428.04,100.35 L428.42,105.86 L428.80,107.93 L429.18,101.81 L429.56,102.79 L429.94,104.56 L430.32,100.09 L430.70,106.13 L431.08,104.12 L431.46,105.66 L431.84,101.24 L432.22,106.20 L432.60,101.11 L432.98,107.94 L433.36,101.90 L433.74,105.25 L434.12,102.64 L434.50,103.69 L434.88,107.11 L435.26,104.04 L435.64,106.18 L436.02,99.80 L436.40,104.06 L436.78,102.01 L437.16,100.95 L437.54,103.45 L437.92,105.40 L438.30,107.48 L438.68,104.53 L439.06,101.29 L439.44,102.98 L439.82,101.36 L440.20,106.39 L440.58,100.26 L440.96,106.69 L441.34,102.36 L441.72,105.70 L442.10,103.42 L442.48,101.08 L442.86,104.32 L443.24,101.34 L443.62,101.40 L444.00,101.42 L444.38,104.64 L444.76,107.09 L445.14,104.90 L445.52,100.01 L445.90,101.19 L446.28,105.93 L446.66,110.96 L447.04,104.92 L447.42,107.02 L447.80,104.96 L448.18,106.42 L448.56,100.32 L448.94,107.94 L449.32,107.75 L449.70,107.55 L450.08,103.84 L450.46,109.04 L450.84,108.55 L451.00,104.26" stroke="#0b6bc6" stroke-width="2.3" fill="none" stroke-linejoin="round"/>
<path d="M59.00,237.92 L59.60,237.74 L60.20,237.89 L60.80,238.13 L61.40,237.92 L62.00,237.88 L62.60,237.61 L63.20,237.83 L63.80,237.79 L64.40,237.66 L65.00,237.78 L65.60,237.65 L66.20,237.30 L66.80,237.03 L67.40,237.37 L68.00,237.45 L68.60,237.05 L69.20,237.17 L69.80,237.29 L70.40,237.21 L71.00,236.60 L71.60,236.89 L72.20,236.51 L72.80,236.52 L73.40,236.96 L74.00,236.62 L74.60,236.66 L75.20,236.44 L75.80,236.21 L76.40,235.94 L77.00,235.85 L77.60,236.00 L78.20,235.64 L78.80,235.22 L79.40,234.88 L80.00,234.81 L80.60,234.92 L81.20,234.54 L81.80,234.50 L82.40,234.36 L83.00,233.59 L83.60,233.64 L84.20,232.80 L84.80,232.91 L85.40,232.03 L86.00,231.65 L86.60,231.70 L87.20,230.69 L87.80,229.87 L88.40,229.46 L89.00,228.24 L89.60,227.26 L90.20,225.74 L90.80,224.62 L91.40,223.62 L92.00,221.84 L92.60,220.59 L93.20,218.30 L93.80,216.91 L94.40,214.68 L95.00,213.25 L95.60,211.27 L96.20,209.86 L96.80,208.95 L97.40,207.15 L98.00,205.98 L98.60,204.28 L99.20,203.16 L99.80,201.89 L100.40,201.24 L101.00,200.67 L101.60,199.98 L102.20,199.79 L102.80,200.43 L103.40,200.99 L104.00,201.80 L104.60,202.51 L105.20,204.18 L105.80,205.51 L106.40,207.50 L107.00,208.75 L107.60,210.68 L108.20,212.42 L108.80,214.05 L109.40,216.01 L110.00,217.96 L110.60,219.88 L111.20,221.26 L111.80,222.74 L112.40,224.66 L113.00,225.44 L113.60,227.41 L114.20,228.63 L114.80,229.71 L115.40,230.65 L116.00,231.72 L116.60,232.53 L117.20,233.08 L117.80,233.75 L118.40,233.91 L119.00,234.74 L119.60,235.11 L120.20,236.07 L120.80,236.30 L121.40,235.94 L122.00,236.32 L122.60,236.40 L123.20,236.10 L123.80,236.42 L124.40,236.75 L125.00,236.76 L125.60,236.58 L126.20,237.00 L126.80,236.75 L127.40,237.00 L128.00,237.00 L128.60,237.47 L129.20,237.31 L129.80,237.50 L130.40,237.49 L131.00,237.36 L131.60,237.85 L132.20,237.75 L132.80,237.82 L133.40,237.61 L134.00,237.61 L134.60,237.97 L135.20,238.23 L135.80,238.28 L136.40,238.05 L137.00,237.98 L137.60,238.33 L138.20,238.65 L138.80,238.20 L139.40,238.64 L140.00,238.26 L140.60,238.36 L141.20,238.17 L141.80,238.34 L142.40,238.40 L143.00,238.80 L143.60,238.80 L144.20,238.25 L144.80,238.33 L145.40,238.77 L146.00,238.25 L146.60,238.33 L147.20,238.41 L147.80,238.17 L148.40,238.28 L149.00,238.37 L149.60,238.36 L150.20,238.76 L150.80,238.27 L151.40,238.22 L152.00,238.71 L152.60,238.38 L153.20,238.65 L153.80,238.51 L154.40,238.60 L155.00,238.28 L155.60,238.16 L156.20,238.58 L156.80,238.37 L157.40,238.43 L158.00,238.51 L158.60,238.56 L159.20,238.22 L159.80,238.28 L160.40,238.67 L161.00,238.39 L161.60,238.22 L162.20,238.45 L162.80,238.19 L163.40,238.55 L164.00,238.03 L164.60,238.58 L165.20,238.39 L165.80,238.24 L166.40,238.65 L167.00,238.17 L167.60,238.15 L168.20,238.03 L168.80,238.36 L169.40,238.50 L170.00,238.44 L170.60,238.25 L171.20,238.52 L171.80,238.03 L172.40,238.17 L173.00,238.40 L173.60,238.62 L174.20,238.39 L174.80,238.42 L175.40,238.48 L176.00,238.21 L176.60,238.59 L177.20,238.44 L177.80,238.16 L178.40,238.19 L179.00,238.48 L179.60,238.15 L180.20,238.04 L180.80,238.51 L181.40,238.27 L182.00,238.26 L182.60,238.36 L183.20,238.52 L183.80,237.98 L184.40,238.12 L185.00,237.92 L185.60,238.16 L186.20,238.22 L186.80,238.46 L187.40,238.33 L188.00,238.26 L188.60,238.14 L189.20,238.26" stroke="#2ab53b" stroke-width="2.5" fill="none" stroke-linejoin="round"/>
<path d="M66.20,236.52 L66.58,233.34 L66.96,235.55 L67.34,237.34 L67.72,238.07 L68.10,237.21 L68.48,233.18 L68.86,234.65 L69.24,233.06 L69.62,237.52 L70.00,233.67 L70.38,232.80 L70.76,236.08 L71.14,232.41 L71.52,234.77 L71.90,238.00 L72.28,235.24 L72.66,237.12 L73.04,233.42 L73.42,234.09 L73.80,234.68 L74.18,234.48 L74.56,235.75 L74.94,233.45 L75.32,233.14 L75.70,234.25 L76.08,235.83 L76.46,233.16 L76.84,233.23 L77.22,236.09 L77.60,236.43 L77.98,237.09 L78.36,232.97 L78.74,232.90 L79.12,237.00 L79.50,235.63 L79.88,235.79 L80.26,232.89 L80.64,237.60 L81.02,236.75 L81.40,235.24 L81.78,233.91 L82.16,237.41 L82.54,234.32 L82.92,237.41 L83.30,236.28 L83.68,236.17 L84.06,235.09 L84.44,235.85 L84.82,235.54 L85.20,234.83 L85.58,235.86 L85.96,233.83 L86.34,233.18 L86.72,231.79 L87.10,231.81 L87.48,234.45 L87.86,231.39 L88.24,232.99 L88.62,234.77 L89.00,234.99 L89.38,235.67 L89.76,231.52 L90.14,232.19 L90.52,234.25 L90.90,230.76 L91.28,228.01 L91.66,237.82 L92.04,231.23 L92.42,235.83 L92.80,234.62 L93.18,231.07 L93.56,233.76 L93.94,234.46 L94.32,236.12 L94.70,233.97 L95.08,230.96 L95.46,234.75 L95.84,231.06 L95.90,232.45 L96.22,233.60 L96.60,233.50 L96.98,230.26 L97.36,233.03 L97.74,233.91 L98.12,227.79 L98.50,230.56 L98.88,229.02 L99.26,231.55 L99.64,231.47 L99.90,226.60 L100.02,228.70 L100.40,229.32 L100.78,224.38 L101.16,222.96 L101.54,224.92 L101.92,222.91 L102.30,222.00 L102.68,214.04 L103.06,212.19 L103.44,211.02 L103.82,207.13 L104.20,204.87 L104.58,201.14 L104.70,202.43 L104.96,199.53 L105.34,193.03 L105.72,189.41 L106.10,191.73 L106.48,186.67 L106.86,184.04 L107.00,178.70 L107.24,177.93 L107.62,177.05 L108.00,174.87 L108.38,171.04 L108.76,169.38 L109.00,167.50 L109.14,170.43 L109.52,175.28 L109.90,180.87 L110.28,189.36 L110.60,191.42 L110.66,192.01 L111.04,197.86 L111.42,202.06 L111.80,210.71 L112.18,212.02 L112.56,217.71 L112.70,221.66 L112.94,220.91 L113.32,224.13 L113.70,225.67 L114.08,226.46 L114.46,233.15 L114.84,232.62 L115.00,236.36 L115.22,231.05 L115.60,236.28 L115.98,234.97 L116.36,234.50 L116.74,234.91 L117.12,233.58 L117.50,231.40 L117.88,234.98 L118.26,237.04 L118.64,233.31 L119.02,232.64 L119.40,235.63 L119.78,235.11 L120.00,236.01 L120.16,237.34 L120.54,231.86 L120.92,232.25 L121.30,235.62 L121.68,236.10 L122.06,236.73 L122.44,237.57 L122.82,234.60 L123.20,238.57 L123.58,233.39 L123.96,233.71 L124.34,238.00 L124.72,233.34 L125.10,235.45 L125.48,236.29 L125.86,234.92 L126.24,238.61 L126.62,238.01 L127.00,234.62 L127.38,234.17 L127.76,232.88 L128.14,235.05 L128.52,233.80 L128.90,237.72 L129.28,234.96 L129.66,233.26 L130.04,235.68 L130.42,237.34 L130.80,238.40 L131.18,232.94 L131.56,234.79 L131.94,234.44 L132.32,235.05 L132.70,236.86 L133.08,236.49 L133.46,236.18 L133.84,236.45 L134.22,237.73 L134.60,235.57 L134.98,237.41 L135.36,236.05 L135.74,237.26 L136.12,236.36 L136.50,235.57 L136.88,239.10 L137.26,237.35 L137.64,237.68 L138.02,235.94 L138.40,238.96 L138.78,234.70 L139.16,237.84 L139.54,236.68 L139.92,235.97 L140.30,238.04 L140.68,238.07 L141.06,236.56 L141.44,234.37 L141.82,237.57 L142.20,237.42 L142.58,235.60 L142.96,233.82 L143.34,235.89 L143.72,237.19 L144.10,233.68 L144.48,236.90 L144.86,232.02 L145.24,232.62 L145.62,233.14 L146.00,236.76 L146.38,234.36 L146.76,232.63 L147.14,236.67 L147.52,233.01 L147.90,237.55 L148.28,236.02 L148.66,234.60 L149.04,233.30 L149.42,235.91 L149.80,237.27 L150.18,234.46 L150.56,235.16 L150.94,236.51 L151.32,236.77 L151.70,236.08 L152.08,237.81 L152.46,236.30 L152.84,233.54 L153.22,236.88 L153.60,235.19 L153.98,234.11 L154.36,233.35 L154.74,237.63 L155.12,233.75 L155.50,235.63 L155.88,236.10 L156.26,233.03 L156.64,234.12 L157.02,234.17 L157.40,237.10 L157.78,237.94 L158.16,233.75 L158.54,233.36 L158.92,233.86 L159.30,237.70 L159.68,234.77 L160.06,235.76 L160.44,236.01 L160.82,236.46 L161.20,238.26 L161.58,238.38 L161.96,234.09 L162.34,238.09 L162.72,234.61 L163.10,236.06 L163.48,238.29 L163.86,238.73 L164.24,234.50 L164.62,238.37 L165.00,236.22 L165.38,238.49 L165.76,233.84 L166.14,237.74 L166.52,232.96 L166.90,234.17 L167.28,234.93 L167.66,234.68 L168.04,236.09 L168.42,236.08 L168.80,234.23 L169.18,235.34 L169.56,238.19 L169.94,235.46 L170.32,237.90 L170.70,234.66 L171.08,237.81 L171.46,238.00 L171.84,235.07 L172.22,238.37 L172.60,234.70 L172.98,233.23 L173.36,233.10 L173.74,234.27 L174.00,237.40" stroke="#0b6bc6" stroke-width="2.3" fill="none" stroke-linejoin="round"/>
<path d="M205.80,234.84 L206.00,232.00 L206.30,241.70 L206.60,236.42 L206.56,238.85 L206.94,233.98 L207.32,238.45 L207.70,235.02 L208.08,239.14 L208.46,238.02 L208.84,235.70 L209.22,236.26 L209.60,237.12 L209.98,236.27 L210.36,237.95 L210.74,241.01 L211.12,235.22 L211.50,238.71 L211.88,234.78 L212.26,234.47 L212.64,237.22 L213.02,236.78 L213.40,236.31 L213.78,237.51 L214.16,234.66 L214.54,233.65 L214.92,236.73 L215.30,235.51 L215.68,238.78 L216.06,236.92 L216.44,235.64 L216.82,234.72 L217.20,233.43 L217.58,234.79 L217.96,235.30 L218.34,233.85 L218.72,233.29 L219.10,233.09 L219.48,234.29 L219.86,235.95 L220.24,236.82 L220.62,235.14 L221.00,235.85 L221.38,236.33 L221.76,238.42 L222.14,238.37 L222.52,232.95 L222.90,234.11 L223.28,237.48 L223.66,238.18 L224.04,236.86 L224.42,234.68 L224.80,236.58 L225.18,233.51 L225.56,236.68 L225.94,236.77 L226.32,237.21 L226.70,236.86 L227.08,236.29 L227.46,236.65 L227.84,233.71 L228.22,234.98 L228.60,234.66 L228.98,233.75 L229.36,235.41 L229.74,234.77 L230.12,234.12 L230.50,235.88 L230.88,233.31 L231.26,233.88 L231.64,237.48 L232.02,237.19 L232.40,236.75 L232.78,235.10 L233.16,233.86 L233.54,231.78 L233.92,234.03 L234.30,235.51 L234.68,237.86 L235.00,234.27 L235.06,236.95 L235.44,233.70 L235.82,232.52 L236.20,236.86 L236.58,231.73 L236.96,236.28 L237.34,237.55 L237.72,232.06 L238.10,233.59 L238.48,235.81 L238.70,231.20 L238.86,231.74 L239.24,229.06 L239.62,229.93 L240.00,228.05 L240.38,226.85 L240.76,223.35 L241.14,225.99 L241.52,223.01 L241.90,222.92 L242.28,219.99 L242.66,219.20 L243.04,218.02 L243.42,211.81 L243.80,211.67 L244.18,208.21 L244.30,205.22 L244.56,206.24 L244.94,194.75 L245.32,197.28 L245.70,189.36 L246.08,189.13 L246.40,184.63 L246.46,181.74 L246.84,177.56 L247.22,172.89 L247.60,169.78 L247.98,165.41 L248.00,165.50 L248.36,171.57 L248.74,180.65 L249.00,183.79 L249.12,186.35 L249.50,192.46 L249.88,200.76 L250.26,205.97 L250.64,215.80 L250.70,216.88 L251.02,218.52 L251.40,219.80 L251.78,225.48 L252.16,222.70 L252.54,229.09 L252.92,232.82 L253.00,229.90 L253.30,230.59 L253.68,233.99 L254.06,233.35 L254.44,236.15 L254.82,232.60 L255.20,233.10 L255.58,235.67 L255.96,232.12 L256.34,232.75 L256.72,235.68 L257.10,235.12 L257.48,236.52 L257.86,240.41 L257.90,235.20 L258.24,235.46 L258.62,238.17 L259.00,237.98 L259.38,237.47 L259.76,234.00 L260.14,238.20 L260.52,238.66 L260.90,234.95 L261.28,237.71 L261.66,235.02 L262.04,238.79 L262.42,236.87 L262.80,239.36 L263.18,235.06 L263.56,235.94 L263.94,236.99 L264.32,236.97 L264.70,237.72 L265.08,238.35 L265.46,239.34 L265.84,233.67 L266.22,237.83 L266.60,237.79 L266.98,236.11 L267.36,234.86 L267.74,238.76 L268.12,235.34 L268.50,238.06 L268.88,236.63 L269.26,237.83 L269.64,238.11 L270.02,237.67 L270.40,234.59 L270.78,237.18 L271.16,237.30 L271.54,235.27 L271.92,237.31 L272.30,236.60 L272.68,233.82 L273.06,235.57 L273.44,236.84 L273.82,234.86 L274.20,235.93 L274.58,238.22 L274.96,236.64 L275.34,233.56 L275.72,233.69 L276.10,235.05 L276.48,235.76 L276.86,236.56 L277.24,237.54 L277.62,236.06 L278.00,236.78 L278.38,234.96 L278.76,238.79 L279.14,234.20 L279.52,237.75 L279.90,237.95 L280.28,235.94 L280.66,238.56 L281.04,235.74 L281.42,239.04 L281.80,238.75 L282.18,235.28 L282.56,237.42 L282.94,238.73 L283.32,237.10 L283.70,234.72 L284.08,238.16 L284.46,236.02 L284.84,236.76 L285.22,233.21 L285.60,236.02 L285.98,236.18 L286.36,236.95 L286.74,234.26 L287.12,237.77 L287.50,236.35 L287.88,238.73 L288.26,238.59 L288.64,236.74 L289.02,235.16 L289.40,237.75 L289.78,237.14 L290.16,234.24 L290.54,235.79 L290.92,236.56 L291.30,235.27 L291.68,237.18 L292.06,236.05 L292.44,236.53 L292.82,235.47 L293.20,238.47 L293.58,237.14 L293.96,236.68 L294.34,233.54 L294.72,237.72 L295.10,236.90 L295.48,235.59 L295.86,238.09 L296.24,237.86 L296.62,234.23 L297.00,234.55 L297.38,236.43 L297.76,236.88 L298.14,236.66 L298.52,236.07 L298.90,237.89 L299.28,238.79 L299.66,237.55 L300.04,235.63 L300.42,239.55 L300.80,235.25 L301.18,234.67 L301.56,235.92 L301.94,238.80 L302.32,233.74 L302.70,234.66 L303.08,237.40 L303.46,236.91 L303.84,233.18 L304.22,234.69 L304.60,236.29 L304.98,236.72 L305.36,237.51 L305.74,238.01 L306.12,239.30 L306.50,234.13 L306.88,239.43 L307.26,235.08 L307.64,239.83 L308.02,239.48 L308.40,235.79 L308.78,235.56 L309.16,240.87 L309.54,235.73 L309.92,236.10 L310.30,238.16 L310.68,234.53 L311.06,237.30 L311.44,235.14 L311.82,233.72 L312.20,238.15 L312.58,234.25 L312.96,236.42 L313.00,237.04" stroke="#0b6bc6" stroke-width="2.3" fill="none" stroke-linejoin="round"/>
<path d="M197.40,237.84 L198.00,238.06 L198.60,238.23 L199.20,237.91 L199.80,238.19 L200.40,238.05 L201.00,237.73 L201.60,238.10 L202.20,237.86 L202.80,237.51 L203.40,237.83 L204.00,237.97 L204.60,237.73 L205.20,237.68 L205.80,237.61 L206.40,237.91 L207.00,237.74 L207.60,237.40 L208.20,237.48 L208.80,237.46 L209.40,237.85 L210.00,237.64 L210.60,237.22 L211.20,237.75 L211.80,237.11 L212.40,237.48 L213.00,237.34 L213.60,237.52 L214.20,237.29 L214.80,237.03 L215.40,237.31 L216.00,237.49 L216.60,237.45 L217.20,237.08 L217.80,236.87 L218.40,237.07 L219.00,236.90 L219.60,236.24 L220.20,236.46 L220.80,236.28 L221.40,235.63 L222.00,235.34 L222.60,235.32 L223.20,235.21 L223.80,234.38 L224.40,234.08 L225.00,233.68 L225.60,233.50 L226.20,232.61 L226.80,232.37 L227.40,231.83 L228.00,231.40 L228.60,230.35 L229.20,230.09 L229.80,229.16 L230.40,227.74 L231.00,226.71 L231.60,225.08 L232.20,224.32 L232.80,222.71 L233.40,221.40 L234.00,219.93 L234.60,217.92 L235.20,216.64 L235.80,214.46 L236.40,212.72 L237.00,211.51 L237.60,210.32 L238.20,208.93 L238.80,207.64 L239.40,206.08 L240.00,205.28 L240.60,204.09 L241.20,203.03 L241.80,202.76 L242.40,202.35 L243.00,201.75 L243.60,201.82 L244.20,201.82 L244.80,202.35 L245.40,203.27 L246.00,204.24 L246.60,205.23 L247.20,206.24 L247.80,207.68 L248.40,209.66 L249.00,211.90 L249.60,214.01 L250.20,215.69 L250.80,217.67 L251.40,219.76 L252.00,221.37 L252.60,223.47 L253.20,225.34 L253.80,226.34 L254.40,227.94 L255.00,229.19 L255.60,230.19 L256.20,231.13 L256.80,232.07 L257.40,232.57 L258.00,233.64 L258.60,234.25 L259.20,234.06 L259.80,234.99 L260.40,234.95 L261.00,235.01 L261.60,235.31 L262.20,236.12 L262.80,236.35 L263.40,236.26 L264.00,236.71 L264.60,237.02 L265.20,237.39 L265.80,237.00 L266.40,237.35 L267.00,237.03 L267.60,237.05 L268.20,237.07 L268.80,237.29 L269.40,237.48 L270.00,237.31 L270.60,237.26 L271.20,237.35 L271.80,237.30 L272.40,237.42 L273.00,237.56 L273.60,237.74 L274.20,237.56 L274.80,237.81 L275.40,237.83 L276.00,238.25 L276.60,237.94 L277.20,238.29 L277.80,237.97 L278.40,237.79 L279.00,238.06 L279.60,237.75 L280.20,237.77 L280.80,237.70 L281.40,238.14 L282.00,238.33 L282.60,237.93 L283.20,237.90 L283.80,237.95 L284.40,237.90 L285.00,238.13 L285.60,237.92 L286.20,237.76 L286.80,238.26 L287.40,238.05 L288.00,237.65 L288.60,238.24 L289.20,238.16 L289.80,237.90 L290.40,238.09 L291.00,238.29 L291.60,237.93 L292.20,237.95 L292.80,237.86 L293.40,238.04 L294.00,238.11 L294.60,238.16 L295.20,238.31 L295.80,237.75 L296.40,237.91 L297.00,238.25 L297.60,238.20 L298.20,238.06 L298.80,238.12 L299.40,237.89 L300.00,238.31 L300.60,238.03 L301.20,237.93 L301.80,237.78 L302.40,237.73 L303.00,238.28 L303.60,238.21 L304.20,237.67 L304.80,237.88 L305.40,237.99 L306.00,238.00 L306.60,237.90 L307.20,238.28 L307.80,237.89 L308.40,238.02 L309.00,238.30 L309.60,238.10 L310.20,237.98 L310.80,237.88 L311.40,237.92 L312.00,238.08 L312.60,238.20 L313.20,237.83 L313.80,237.91 L314.40,237.92 L315.00,237.90 L315.60,238.29 L316.20,238.03 L316.80,237.84 L317.40,237.88 L318.00,238.23 L318.60,237.76 L319.20,238.13 L319.80,237.67 L320.40,237.79 L321.00,237.69 L321.60,238.21 L322.20,237.75 L322.80,237.81 L323.40,237.69 L324.00,237.83 L324.60,238.16 L325.20,238.15 L325.80,238.29 L326.40,238.31 L327.00,238.04 L327.60,238.30 L328.20,237.71 L328.80,238.30" stroke="#2ab53b" stroke-width="2.5" fill="none" stroke-linejoin="round"/>
<path d="M345.60,232.00 L345.80,223.30 L346.10,243.30 L346.40,232.50 L346.36,231.96 L346.80,224.00 L347.10,240.00 L347.40,227.44 L347.12,226.89 L347.50,230.04 L347.80,223.50 L348.10,242.00 L348.40,228.46 L348.26,228.41 L348.80,225.00 L349.10,239.00 L349.40,230.20 L349.02,229.61 L349.40,228.59 L349.80,226.00 L350.10,238.00 L350.40,230.93 L350.16,231.02 L350.54,228.20 L350.92,230.07 L351.30,231.04 L351.68,232.26 L352.06,230.20 L352.44,228.23 L352.82,230.69 L353.20,231.46 L353.58,229.06 L353.96,230.20 L354.34,232.08 L354.72,232.46 L355.10,232.29 L355.48,229.16 L355.86,229.82 L356.24,233.30 L356.62,230.50 L357.00,234.21 L357.38,235.03 L357.76,230.39 L358.14,230.38 L358.52,235.26 L358.90,234.24 L359.28,231.10 L359.66,229.68 L360.04,229.71 L360.42,233.75 L360.80,230.85 L361.18,229.00 L361.56,231.73 L361.94,233.59 L362.32,230.36 L362.70,230.22 L363.08,234.12 L363.46,231.84 L363.84,234.92 L364.22,232.76 L364.60,231.98 L364.98,232.10 L365.36,230.96 L365.74,229.28 L366.12,231.87 L366.50,232.44 L366.88,229.68 L367.26,233.30 L367.64,231.99 L368.00,228.77 L368.02,233.34 L368.40,228.63 L368.78,232.27 L369.16,231.32 L369.54,229.87 L369.92,231.48 L370.30,228.82 L370.68,230.19 L371.06,233.32 L371.44,232.88 L371.82,228.28 L372.20,228.92 L372.58,231.28 L372.96,233.73 L373.34,231.45 L373.72,232.04 L374.10,229.77 L374.48,232.85 L374.86,230.95 L375.24,232.49 L375.62,230.17 L376.00,231.55 L376.38,230.88 L376.76,228.98 L377.14,229.89 L377.52,229.91 L377.90,226.47 L378.28,229.72 L378.66,224.63 L379.04,226.91 L379.42,226.38 L379.80,224.46 L380.00,226.33 L380.18,223.73 L380.56,225.32 L380.94,217.97 L381.32,219.85 L381.70,217.64 L382.08,212.87 L382.46,210.01 L382.50,213.58 L382.84,207.69 L383.22,202.42 L383.60,201.41 L383.98,200.89 L384.36,192.92 L384.40,197.35 L384.74,191.72 L385.12,184.23 L385.50,180.77 L385.88,177.89 L386.00,177.59 L386.26,173.68 L386.64,170.73 L387.02,168.40 L387.30,165.50 L387.40,166.87 L387.78,173.10 L388.16,175.72 L388.54,180.62 L388.90,184.85 L388.92,186.07 L389.30,191.19 L389.68,197.94 L390.06,201.25 L390.44,209.63 L390.50,205.53 L390.82,210.47 L391.20,214.75 L391.58,222.51 L391.96,223.89 L392.00,226.68 L392.34,227.66 L392.72,228.78 L393.10,224.94 L393.48,226.27 L393.86,229.31 L394.24,231.57 L394.62,230.26 L395.00,229.82 L395.30,231.38 L395.38,236.06 L395.76,231.86 L396.14,229.09 L396.52,228.95 L396.90,229.06 L397.28,231.16 L397.66,230.64 L398.04,230.83 L398.42,229.26 L398.80,228.95 L399.18,229.86 L399.56,228.13 L399.94,228.88 L400.32,231.05 L400.70,230.28 L401.08,233.04 L401.46,230.31 L401.84,231.46 L402.22,230.68 L402.60,228.76 L402.98,230.17 L403.36,235.14 L403.74,229.52 L404.12,232.97 L404.50,228.96 L404.88,228.99 L405.26,230.89 L405.64,228.14 L406.02,230.56 L406.40,229.51 L406.78,230.99 L407.16,230.06 L407.54,231.15 L407.92,235.76 L408.30,233.26 L408.68,232.62 L409.06,228.58 L409.44,231.54 L409.82,230.72 L410.20,228.09 L410.58,230.27 L410.96,231.63 L411.34,229.32 L411.72,227.75 L412.10,231.22 L412.48,232.69 L412.86,232.19 L413.24,231.46 L413.62,229.51 L414.00,233.43 L414.38,228.21 L414.76,231.54 L415.14,231.05 L415.52,231.74 L415.90,232.20 L416.28,229.79 L416.66,230.48 L417.04,229.66 L417.42,226.49 L417.80,231.20 L418.18,227.65 L418.56,229.82 L418.94,228.23 L419.32,229.71 L419.70,232.88 L420.08,229.52 L420.46,233.35 L420.84,233.99 L421.22,229.22 L421.60,229.03 L421.98,231.30 L422.36,232.53 L422.74,231.33 L423.12,233.40 L423.50,230.56 L423.88,230.64 L424.26,231.58 L424.64,233.53 L425.02,229.03 L425.40,231.94 L425.78,228.32 L426.16,228.83 L426.54,230.69 L426.92,229.51 L427.30,228.87 L427.68,229.03 L428.06,228.67 L428.44,231.52 L428.82,229.59 L429.20,230.43 L429.58,232.97 L429.96,230.05 L430.34,232.18 L430.72,230.27 L431.10,228.30 L431.48,232.42 L431.86,228.92 L432.24,230.69 L432.62,233.14 L433.00,230.07 L433.38,230.92 L433.76,230.61 L434.14,229.50 L434.52,229.97 L434.90,232.63 L435.28,231.44 L435.66,231.25 L436.04,232.78 L436.42,230.17 L436.80,229.73 L437.18,229.77 L437.56,229.79 L437.94,232.79 L438.32,229.67 L438.70,233.97 L439.08,231.41 L439.46,229.95 L439.84,229.17 L440.22,229.40 L440.60,232.78 L440.98,233.37 L441.36,231.87 L441.74,228.54 L442.12,229.20 L442.50,229.51 L442.88,228.58 L443.26,232.53 L443.64,231.91 L444.02,228.49 L444.40,229.55 L444.78,228.41 L445.16,232.60 L445.54,228.71 L445.92,230.20 L446.30,232.08 L446.68,229.94 L447.06,232.09 L447.44,231.53 L447.82,232.44 L448.20,229.50 L448.58,230.08 L448.96,235.49 L449.34,230.11 L449.72,232.22 L450.10,230.45 L450.48,231.22 L450.86,226.92 L451.24,228.30 L451.62,228.79 L452.00,232.56 L452.38,229.85 L452.76,232.34 L453.00,231.47" stroke="#0b6bc6" stroke-width="2.3" fill="none" stroke-linejoin="round"/>
<path d="M336.50,238.22 L337.10,238.16 L337.70,238.44 L338.30,238.73 L338.90,238.25 L339.50,238.40 L340.10,238.61 L340.70,238.26 L341.30,238.16 L341.90,238.41 L342.50,238.33 L343.10,238.68 L343.70,238.64 L344.30,238.17 L344.90,238.38 L345.50,238.27 L346.10,237.99 L346.70,238.26 L347.30,238.58 L347.90,238.14 L348.50,238.33 L349.10,238.40 L349.70,237.94 L350.30,238.53 L350.90,237.95 L351.50,238.05 L352.10,238.30 L352.70,237.75 L353.30,237.93 L353.90,237.67 L354.50,237.82 L355.10,237.42 L355.70,237.43 L356.30,237.39 L356.90,237.21 L357.50,237.13 L358.10,237.11 L358.70,237.26 L359.30,236.90 L359.90,237.30 L360.50,236.93 L361.10,236.73 L361.70,236.63 L362.30,236.95 L362.90,236.25 L363.50,236.57 L364.10,235.91 L364.70,236.25 L365.30,235.62 L365.90,235.49 L366.50,235.41 L367.10,234.56 L367.70,234.10 L368.30,234.00 L368.90,233.27 L369.50,232.59 L370.10,231.46 L370.70,230.79 L371.30,229.64 L371.90,228.76 L372.50,227.47 L373.10,226.37 L373.70,224.74 L374.30,223.26 L374.90,222.06 L375.50,220.16 L376.10,219.10 L376.70,217.28 L377.30,215.44 L377.90,213.66 L378.50,212.24 L379.10,210.63 L379.70,209.35 L380.30,207.84 L380.90,206.77 L381.50,206.19 L382.10,204.93 L382.70,204.74 L383.30,204.31 L383.90,204.33 L384.50,204.55 L385.10,204.64 L385.70,205.86 L386.30,206.70 L386.90,207.55 L387.50,209.40 L388.10,210.60 L388.70,212.26 L389.30,213.74 L389.90,215.19 L390.50,217.63 L391.10,219.17 L391.70,221.33 L392.30,223.57 L392.90,225.15 L393.50,227.11 L394.10,228.95 L394.70,230.06 L395.30,231.82 L395.90,232.56 L396.50,233.73 L397.10,234.54 L397.70,235.02 L398.30,234.99 L398.90,235.52 L399.50,236.48 L400.10,236.50 L400.70,236.92 L401.30,237.20 L401.90,237.67 L402.50,237.86 L403.10,237.88 L403.70,237.74 L404.30,237.89 L404.90,237.89 L405.50,237.69 L406.10,238.26 L406.70,238.31 L407.30,238.21 L407.90,238.39 L408.50,238.06 L409.10,238.35 L409.70,237.97 L410.30,238.35 L410.90,238.37 L411.50,238.56 L412.10,238.52 L412.70,238.58 L413.30,238.19 L413.90,238.58 L414.50,238.40 L415.10,238.32 L415.70,238.38 L416.30,238.70 L416.90,238.74 L417.50,238.74 L418.10,238.62 L418.70,238.27 L419.30,238.27 L419.90,238.55 L420.50,238.31 L421.10,238.40 L421.70,238.23 L422.30,238.27 L422.90,238.66 L423.50,238.32 L424.10,238.76 L424.70,238.40 L425.30,238.76 L425.90,238.38 L426.50,238.36 L427.10,238.45 L427.70,238.18 L428.30,238.48 L428.90,238.44 L429.50,238.18 L430.10,238.78 L430.70,238.44 L431.30,238.18 L431.90,238.85 L432.50,238.34 L433.10,238.36 L433.70,238.20 L434.30,238.25 L434.90,238.68 L435.50,238.59 L436.10,238.54 L436.70,238.36 L437.30,238.39 L437.90,238.87 L438.50,238.45 L439.10,238.89 L439.70,238.82 L440.30,238.28 L440.90,238.79 L441.50,238.21 L442.10,238.70 L442.70,238.77 L443.30,238.69 L443.90,238.59 L444.50,238.77 L445.10,238.31 L445.70,238.58 L446.30,238.39 L446.90,238.49 L447.50,238.34 L448.10,238.71 L448.70,238.61 L449.30,238.76 L449.90,238.65 L450.50,238.63 L451.10,238.86 L451.70,238.79 L452.30,238.62 L452.90,238.45 L453.50,238.87 L454.10,238.48 L454.70,238.29 L455.30,238.46 L455.90,238.72 L456.50,238.88 L457.10,238.68 L457.70,238.69 L458.30,238.89 L458.90,238.78 L459.50,238.54 L460.10,238.56 L460.70,238.77 L461.30,238.46 L461.90,238.31 L462.50,238.67 L463.10,238.81 L463.70,238.41 L464.30,238.72 L464.90,238.87 L465.50,238.33 L466.10,238.34 L466.70,238.59 L467.30,238.48 L467.90,238.91 L468.50,238.95" stroke="#2ab53b" stroke-width="2.5" fill="none" stroke-linejoin="round"/>
<path d="M68.00,361.67 L68.38,359.75 L68.76,359.04 L69.14,361.18 L69.52,358.38 L69.90,358.23 L70.28,360.43 L70.66,361.27 L71.04,358.89 L71.42,363.89 L71.80,366.30 L72.18,362.78 L72.56,359.50 L72.94,361.62 L73.32,362.84 L73.70,361.43 L74.08,361.38 L74.46,359.56 L74.84,360.85 L75.22,362.88 L75.60,362.70 L75.98,360.38 L76.36,362.06 L76.74,361.81 L77.12,362.81 L77.50,362.97 L77.88,360.21 L78.26,359.94 L78.64,360.38 L79.02,359.66 L79.40,363.57 L79.78,361.42 L80.16,360.55 L80.54,363.14 L80.92,362.78 L81.30,361.64 L81.68,359.70 L82.06,361.10 L82.44,358.87 L82.82,361.45 L83.20,360.40 L83.58,362.19 L83.96,359.43 L84.34,358.81 L84.72,360.89 L85.10,361.71 L85.48,359.25 L85.86,363.06 L86.24,360.45 L86.62,361.23 L87.00,363.18 L87.38,360.11 L87.76,359.67 L88.14,361.46 L88.52,359.05 L88.90,362.89 L89.28,362.80 L89.66,358.84 L90.04,359.67 L90.42,361.66 L90.80,361.27 L91.18,362.47 L91.56,358.58 L91.94,363.29 L92.32,359.22 L92.70,359.74 L93.08,359.73 L93.46,361.53 L93.84,358.34 L94.22,362.90 L94.60,359.65 L94.98,360.68 L95.36,361.31 L95.74,359.76 L96.12,361.92 L96.50,362.60 L96.88,360.47 L96.90,361.36 L97.26,359.48 L97.64,363.00 L98.02,359.59 L98.40,359.49 L98.78,359.73 L99.16,360.69 L99.54,358.07 L99.92,360.27 L100.30,362.58 L100.68,358.87 L101.06,356.89 L101.44,356.74 L101.82,358.35 L102.20,353.65 L102.50,357.53 L102.58,358.62 L102.96,355.39 L103.34,355.88 L103.72,356.06 L104.10,356.87 L104.48,352.63 L104.86,352.57 L105.24,354.21 L105.62,352.46 L105.70,351.91 L106.00,352.78 L106.38,347.95 L106.76,344.39 L107.14,338.15 L107.52,337.99 L107.90,333.51 L108.00,329.63 L108.28,328.30 L108.66,324.04 L109.04,320.70 L109.42,316.91 L109.80,308.76 L110.00,306.82 L110.18,305.81 L110.56,299.49 L110.94,295.18 L111.32,291.58 L111.60,287.00 L111.70,288.16 L112.08,294.17 L112.46,299.58 L112.84,301.98 L113.20,309.13 L113.22,311.14 L113.60,313.86 L113.98,321.47 L114.36,322.77 L114.74,332.96 L115.12,334.58 L115.30,337.77 L115.50,340.13 L115.88,341.80 L116.26,344.25 L116.64,350.88 L117.02,351.82 L117.40,355.24 L117.70,352.80 L117.78,355.21 L118.16,351.99 L118.54,353.52 L118.92,356.24 L119.30,353.77 L119.68,356.64 L120.06,357.43 L120.44,355.44 L120.82,356.67 L121.20,356.76 L121.58,358.41 L121.96,361.97 L122.34,359.90 L122.50,362.58 L122.72,361.48 L123.10,359.06 L123.48,360.27 L123.86,360.46 L124.24,361.71 L124.62,359.40 L125.00,358.37 L125.38,360.03 L125.76,359.26 L126.14,362.06 L126.52,359.01 L126.90,360.39 L127.28,360.64 L127.66,360.36 L128.04,362.36 L128.42,358.77 L128.80,359.84 L129.18,361.76 L129.56,360.74 L129.94,362.22 L130.32,357.65 L130.70,357.77 L131.08,361.13 L131.46,362.46 L131.84,362.13 L132.22,358.59 L132.60,358.09 L132.98,361.87 L133.36,361.60 L133.74,363.29 L134.12,363.30 L134.50,358.95 L134.88,361.43 L135.26,363.10 L135.64,362.58 L136.02,359.53 L136.40,359.76 L136.78,362.82 L137.16,359.03 L137.54,359.84 L137.92,358.20 L138.30,358.61 L138.68,362.49 L139.06,363.01 L139.44,359.66 L139.82,360.22 L140.20,358.16 L140.58,360.42 L140.96,361.94 L141.34,359.64 L141.72,359.51 L142.10,359.54 L142.48,361.88 L142.86,360.92 L143.24,360.61 L143.62,361.40 L144.00,359.93 L144.38,358.55 L144.76,359.52 L145.14,360.17 L145.52,362.15 L145.90,359.98 L146.28,357.72 L146.66,361.88 L147.04,360.95 L147.42,361.64 L147.80,361.27 L148.18,363.15 L148.56,361.75 L148.94,358.51 L149.32,360.47 L149.70,360.17 L150.08,361.14 L150.46,361.59 L150.84,362.24 L151.22,361.29 L151.60,362.01 L151.98,359.97 L152.36,362.62 L152.74,359.60 L153.12,359.21 L153.50,360.41 L153.88,361.58 L154.26,363.07 L154.64,360.70 L155.02,360.31 L155.40,358.07 L155.78,359.00 L156.16,358.05 L156.54,359.56 L156.92,358.78 L157.30,362.57 L157.68,359.89 L158.06,359.53 L158.44,360.19 L158.82,362.85 L159.20,360.20 L159.58,360.36 L159.96,361.28 L160.34,360.70 L160.72,363.09 L161.10,363.57 L161.48,362.76 L161.86,359.85 L162.24,363.49 L162.62,362.73 L163.00,363.50 L163.38,360.15 L163.76,360.30 L164.14,359.45 L164.52,362.91 L164.90,363.11 L165.28,360.00 L165.66,359.38 L166.04,358.92 L166.42,360.98 L166.80,358.79 L167.18,361.50 L167.56,358.25 L167.94,359.34 L168.32,358.69 L168.70,361.60 L169.08,356.99 L169.46,358.15 L169.84,358.43 L170.22,360.53 L170.60,362.34 L170.98,362.88 L171.36,361.68 L171.74,362.86 L172.12,360.51 L172.50,362.96 L172.88,360.48 L173.26,362.13 L173.64,360.00 L174.02,358.87 L174.40,362.34 L174.78,361.77 L175.16,360.75 L175.54,363.42 L175.92,362.23 L176.30,364.48 L176.68,363.29 L177.06,363.53 L177.44,363.15 L177.82,361.74 L178.00,361.78" stroke="#0b6bc6" stroke-width="2.3" fill="none" stroke-linejoin="round"/>
<path d="M60.40,361.28 L61.00,361.64 L61.60,361.49 L62.20,361.30 L62.80,361.36 L63.40,361.51 L64.00,361.30 L64.60,361.58 L65.20,360.89 L65.80,361.50 L66.40,361.35 L67.00,361.17 L67.60,361.40 L68.20,360.89 L68.80,361.00 L69.40,361.24 L70.00,361.30 L70.60,360.97 L71.20,361.38 L71.80,361.12 L72.40,360.67 L73.00,360.71 L73.60,360.66 L74.20,360.98 L74.80,360.79 L75.40,360.72 L76.00,360.83 L76.60,360.56 L77.20,361.12 L77.80,361.05 L78.40,360.83 L79.00,360.73 L79.60,360.62 L80.20,360.80 L80.80,360.60 L81.40,361.02 L82.00,360.99 L82.60,360.81 L83.20,360.83 L83.80,360.22 L84.40,360.13 L85.00,360.12 L85.60,359.76 L86.20,359.75 L86.80,359.93 L87.40,359.60 L88.00,359.47 L88.60,358.74 L89.20,358.52 L89.80,358.16 L90.40,358.12 L91.00,357.71 L91.60,357.68 L92.20,357.03 L92.80,356.70 L93.40,355.91 L94.00,355.16 L94.60,354.16 L95.20,353.68 L95.80,352.85 L96.40,351.93 L97.00,350.69 L97.60,349.49 L98.20,348.03 L98.80,346.42 L99.40,345.28 L100.00,343.94 L100.60,342.19 L101.20,341.22 L101.80,339.78 L102.40,338.31 L103.00,336.83 L103.60,335.14 L104.20,333.62 L104.80,332.57 L105.40,331.97 L106.00,331.39 L106.60,330.21 L107.20,329.60 L107.80,329.31 L108.40,328.77 L109.00,328.41 L109.60,327.61 L110.20,327.82 L110.80,327.33 L111.40,327.74 L112.00,327.62 L112.60,328.20 L113.20,328.94 L113.80,330.56 L114.40,331.59 L115.00,333.18 L115.60,334.07 L116.20,335.83 L116.80,337.41 L117.40,339.03 L118.00,340.46 L118.60,341.33 L119.20,342.96 L119.80,344.83 L120.40,345.93 L121.00,347.63 L121.60,348.53 L122.20,349.77 L122.80,351.80 L123.40,352.60 L124.00,353.94 L124.60,354.79 L125.20,355.79 L125.80,356.75 L126.40,357.45 L127.00,358.09 L127.60,358.34 L128.20,359.32 L128.80,359.22 L129.40,359.83 L130.00,360.41 L130.60,360.01 L131.20,360.16 L131.80,360.37 L132.40,360.19 L133.00,360.59 L133.60,360.61 L134.20,360.29 L134.80,360.93 L135.40,360.40 L136.00,360.91 L136.60,360.73 L137.20,360.65 L137.80,360.67 L138.40,361.38 L139.00,361.30 L139.60,361.11 L140.20,361.38 L140.80,361.52 L141.40,361.50 L142.00,361.23 L142.60,361.05 L143.20,361.22 L143.80,361.55 L144.40,361.38 L145.00,361.34 L145.60,361.46 L146.20,361.16 L146.80,361.27 L147.40,361.47 L148.00,361.02 L148.60,361.48 L149.20,360.90 L149.80,361.26 L150.40,361.29 L151.00,360.99 L151.60,361.54 L152.20,361.20 L152.80,361.03 L153.40,361.19 L154.00,361.32 L154.60,361.20 L155.20,360.91 L155.80,360.97 L156.40,361.41 L157.00,361.01 L157.60,361.09 L158.20,361.48 L158.80,361.52 L159.40,361.54 L160.00,361.05 L160.60,360.93 L161.20,361.46 L161.80,361.35 L162.40,361.19 L163.00,360.95 L163.60,361.24 L164.20,361.11 L164.80,361.35 L165.40,361.63 L166.00,361.09 L166.60,361.00 L167.20,361.44 L167.80,361.03 L168.40,361.11 L169.00,361.27 L169.60,361.65 L170.20,361.19 L170.80,361.19 L171.40,361.30 L172.00,361.08 L172.60,361.25 L173.20,361.46 L173.80,361.20 L174.40,361.54 L175.00,361.11 L175.60,361.05 L176.20,361.42 L176.80,361.30 L177.40,361.63 L178.00,361.07 L178.60,361.52 L179.20,361.47 L179.80,361.26 L180.40,361.09 L181.00,361.43 L181.60,361.54 L182.20,361.34 L182.80,361.34 L183.40,361.49 L184.00,361.44 L184.60,361.31 L185.20,361.15 L185.80,361.35 L186.40,361.41 L187.00,361.65 L187.60,361.72 L188.20,361.42 L188.80,361.26 L189.40,361.19 L190.00,361.48 L190.60,361.56 L191.20,361.21 L191.80,361.53 L192.40,361.74 L193.00,361.32 L193.60,361.70" stroke="#2ab53b" stroke-width="2.5" fill="none" stroke-linejoin="round"/>
<path d="M209.60,364.41 L209.98,364.10 L210.36,367.57 L210.74,366.09 L211.12,363.36 L211.50,366.06 L211.88,363.80 L212.26,366.08 L212.64,363.93 L213.02,364.60 L213.40,366.52 L213.78,368.08 L214.16,364.91 L214.54,367.56 L214.92,367.54 L215.30,368.34 L215.68,368.41 L216.06,367.39 L216.44,364.76 L216.82,368.46 L217.20,367.14 L217.58,364.62 L217.96,364.52 L218.34,367.30 L218.72,368.28 L219.10,364.25 L219.48,363.65 L219.86,363.55 L220.24,363.09 L220.62,365.86 L221.00,365.46 L221.38,363.62 L221.76,362.10 L222.14,365.88 L222.52,361.87 L222.90,364.30 L223.28,363.44 L223.66,364.94 L224.04,362.70 L224.42,365.20 L224.80,366.28 L225.18,364.93 L225.56,364.39 L225.94,363.43 L226.32,365.28 L226.70,365.82 L227.08,366.30 L227.46,363.47 L227.84,364.44 L228.22,366.28 L228.60,367.35 L228.98,367.59 L229.36,367.27 L229.74,366.66 L230.12,364.87 L230.50,367.40 L230.88,362.75 L231.26,366.27 L231.64,366.39 L232.00,363.09 L232.02,364.35 L232.40,367.61 L232.78,363.25 L233.16,363.52 L233.54,365.80 L233.92,365.89 L234.30,366.07 L234.68,363.19 L235.06,365.82 L235.44,363.12 L235.82,362.98 L236.20,362.88 L236.58,368.38 L236.96,362.16 L237.34,364.57 L237.72,363.12 L238.10,365.51 L238.48,362.74 L238.86,365.59 L239.24,365.47 L239.62,365.41 L240.00,363.85 L240.38,365.04 L240.76,366.42 L241.14,363.84 L241.52,365.12 L241.90,365.50 L242.28,365.06 L242.66,362.31 L243.00,364.65 L243.04,363.75 L243.42,364.36 L243.80,364.43 L244.18,363.84 L244.56,360.69 L244.94,363.12 L245.32,363.06 L245.70,360.05 L245.80,361.58 L246.08,358.94 L246.46,356.37 L246.84,355.32 L247.22,355.22 L247.60,352.45 L247.98,354.29 L248.36,350.88 L248.74,345.83 L248.90,349.92 L249.12,343.07 L249.50,339.14 L249.88,334.39 L250.26,327.29 L250.50,322.43 L250.64,322.60 L251.02,314.19 L251.40,309.16 L251.78,303.21 L252.16,296.42 L252.54,289.74 L252.60,289.00 L252.92,293.96 L253.30,301.21 L253.68,309.19 L254.06,317.09 L254.44,324.70 L254.50,322.62 L254.82,330.96 L255.20,335.27 L255.58,340.05 L255.96,347.01 L256.00,349.97 L256.34,350.04 L256.72,349.99 L257.10,352.33 L257.48,356.19 L257.86,355.82 L258.24,356.64 L258.62,358.89 L259.00,359.87 L259.30,360.87 L259.38,362.15 L259.76,362.99 L260.14,364.08 L260.52,362.75 L260.90,360.59 L261.28,362.76 L261.66,361.26 L262.04,361.71 L262.42,361.51 L262.80,363.83 L263.18,362.71 L263.56,365.64 L263.94,365.53 L264.10,364.18 L264.32,363.80 L264.70,364.36 L265.08,362.10 L265.46,364.35 L265.84,364.17 L266.22,362.77 L266.60,363.74 L266.98,366.45 L267.36,363.70 L267.74,365.71 L268.12,366.00 L268.50,364.05 L268.88,365.10 L269.26,365.17 L269.64,362.44 L270.02,365.33 L270.40,364.02 L270.78,362.01 L271.16,362.94 L271.54,365.95 L271.92,365.35 L272.30,366.82 L272.68,366.64 L273.06,367.15 L273.44,366.09 L273.82,364.24 L274.20,365.37 L274.58,364.37 L274.96,366.24 L275.34,365.58 L275.72,364.86 L276.10,364.87 L276.48,362.96 L276.86,364.62 L277.24,364.69 L277.62,364.12 L278.00,364.41 L278.38,365.41 L278.76,365.19 L279.14,364.38 L279.52,364.51 L279.90,362.12 L280.28,365.51 L280.66,363.63 L281.04,366.10 L281.42,364.85 L281.80,363.54 L282.18,366.11 L282.56,363.31 L282.94,367.46 L283.32,363.89 L283.70,362.78 L284.08,364.57 L284.46,364.89 L284.84,364.51 L285.22,363.06 L285.60,364.99 L285.98,362.89 L286.36,362.18 L286.74,363.24 L287.12,366.27 L287.50,362.65 L287.88,364.24 L288.26,363.87 L288.64,362.80 L289.02,365.08 L289.40,366.19 L289.78,364.49 L290.16,363.59 L290.54,364.66 L290.92,364.66 L291.30,363.68 L291.68,365.97 L292.06,366.84 L292.44,363.81 L292.82,362.64 L293.20,365.19 L293.58,366.74 L293.96,362.26 L294.34,363.52 L294.72,366.16 L295.10,362.64 L295.48,364.34 L295.86,365.57 L296.24,363.64 L296.62,366.14 L297.00,365.60 L297.38,364.02 L297.76,363.36 L298.14,367.00 L298.52,366.78 L298.90,366.92 L299.28,364.67 L299.66,366.77 L300.04,364.41 L300.42,366.11 L300.80,366.32 L301.18,365.20 L301.56,364.91 L301.94,366.46 L302.32,365.20 L302.70,367.35 L303.08,365.35 L303.46,368.79 L303.84,366.90 L304.22,366.85 L304.60,365.75 L304.98,368.14 L305.36,365.91 L305.74,365.63 L306.12,366.84 L306.50,365.20 L306.88,366.74 L307.26,365.57 L307.64,367.41 L308.02,368.46 L308.40,367.28 L308.78,367.21 L309.16,367.77 L309.54,367.39 L309.92,365.16 L310.30,367.22 L310.68,367.60 L311.06,365.47 L311.44,366.20 L311.82,365.07 L312.20,366.06 L312.58,363.58 L312.96,364.49 L313.34,364.62 L313.72,366.64 L314.10,363.35 L314.48,365.98 L314.86,369.70 L315.24,367.50 L315.62,363.64 L316.00,366.09 L316.38,366.89 L316.76,363.07 L317.14,365.16 L317.52,363.87 L317.90,364.58 L318.28,362.91 L318.40,365.10" stroke="#0b6bc6" stroke-width="2.3" fill="none" stroke-linejoin="round"/>
<path d="M200.50,358.97 L201.10,359.35 L201.70,359.00 L202.30,359.19 L202.90,359.45 L203.50,359.56 L204.10,359.46 L204.70,358.91 L205.30,359.14 L205.90,359.39 L206.50,358.95 L207.10,359.16 L207.70,358.99 L208.30,358.98 L208.90,359.34 L209.50,359.38 L210.10,359.14 L210.70,359.26 L211.30,358.88 L211.90,359.14 L212.50,359.06 L213.10,359.22 L213.70,359.15 L214.30,359.30 L214.90,359.25 L215.50,359.18 L216.10,359.00 L216.70,359.07 L217.30,358.88 L217.90,358.83 L218.50,359.05 L219.10,358.86 L219.70,359.13 L220.30,359.38 L220.90,358.86 L221.50,358.97 L222.10,359.25 L222.70,359.02 L223.30,358.65 L223.90,358.87 L224.50,359.13 L225.10,358.73 L225.70,358.64 L226.30,358.79 L226.90,358.59 L227.50,358.49 L228.10,357.98 L228.70,357.95 L229.30,358.14 L229.90,357.67 L230.50,357.47 L231.10,357.84 L231.70,357.00 L232.30,356.85 L232.90,356.83 L233.50,355.74 L234.10,355.22 L234.70,355.04 L235.30,354.66 L235.90,353.67 L236.50,353.23 L237.10,352.14 L237.70,351.86 L238.30,350.61 L238.90,349.80 L239.50,348.29 L240.10,347.68 L240.70,346.21 L241.30,345.57 L241.90,344.62 L242.50,343.24 L243.10,342.14 L243.70,341.17 L244.30,339.48 L244.90,338.69 L245.50,337.35 L246.10,336.21 L246.70,335.02 L247.30,334.63 L247.90,333.46 L248.50,333.04 L249.10,332.01 L249.70,331.99 L250.30,331.15 L250.90,330.29 L251.50,329.87 L252.10,328.76 L252.70,328.90 L253.30,328.64 L253.90,329.50 L254.50,329.73 L255.10,330.32 L255.70,331.47 L256.30,331.79 L256.90,332.83 L257.50,334.01 L258.10,334.56 L258.70,336.31 L259.30,337.70 L259.90,339.07 L260.50,340.71 L261.10,341.90 L261.70,343.51 L262.30,344.48 L262.90,345.88 L263.50,347.76 L264.10,348.75 L264.70,350.23 L265.30,351.49 L265.90,352.85 L266.50,353.39 L267.10,354.17 L267.70,354.90 L268.30,355.24 L268.90,356.06 L269.50,356.39 L270.10,357.32 L270.70,357.49 L271.30,357.44 L271.90,357.89 L272.50,357.67 L273.10,357.87 L273.70,358.25 L274.30,357.98 L274.90,358.10 L275.50,358.12 L276.10,358.62 L276.70,358.43 L277.30,358.30 L277.90,358.41 L278.50,358.70 L279.10,359.18 L279.70,358.83 L280.30,358.88 L280.90,358.86 L281.50,358.93 L282.10,359.39 L282.70,359.36 L283.30,359.38 L283.90,359.15 L284.50,359.42 L285.10,358.95 L285.70,358.93 L286.30,359.36 L286.90,359.38 L287.50,358.92 L288.10,359.40 L288.70,359.03 L289.30,358.91 L289.90,358.87 L290.50,359.24 L291.10,359.29 L291.70,359.45 L292.30,359.62 L292.90,359.04 L293.50,359.59 L294.10,359.45 L294.70,359.32 L295.30,359.10 L295.90,359.33 L296.50,359.45 L297.10,359.55 L297.70,359.04 L298.30,359.73 L298.90,359.25 L299.50,359.61 L300.10,359.77 L300.70,359.62 L301.30,359.71 L301.90,359.63 L302.50,359.82 L303.10,359.49 L303.70,359.71 L304.30,359.54 L304.90,359.59 L305.50,359.52 L306.10,359.34 L306.70,359.59 L307.30,359.34 L307.90,359.45 L308.50,359.36 L309.10,359.57 L309.70,359.32 L310.30,359.88 L310.90,359.51 L311.50,359.37 L312.10,359.74 L312.70,359.51 L313.30,359.66 L313.90,360.06 L314.50,360.05 L315.10,360.10 L315.70,359.66 L316.30,359.57 L316.90,359.83 L317.50,360.15 L318.10,359.92 L318.70,359.87 L319.30,359.89 L319.90,360.20 L320.50,359.89 L321.10,359.67 L321.70,359.81 L322.30,359.78 L322.90,359.65 L323.50,360.06 L324.10,359.75 L324.70,360.00 L325.30,360.29 L325.90,359.87 L326.50,359.98 L327.10,359.93 L327.70,359.75 L328.30,359.92 L328.90,360.05 L329.50,359.85 L330.10,359.96 L330.70,360.19 L331.30,360.07 L331.90,359.88 L332.50,360.17 L333.10,360.13 L333.70,360.20 L334.30,360.30" stroke="#2ab53b" stroke-width="2.5" fill="none" stroke-linejoin="round"/>
<path d="M350.00,360.18 L350.20,357.00 L350.50,366.00 L350.80,361.00 L350.76,359.58 L351.14,362.64 L351.52,359.30 L351.90,360.89 L352.28,357.35 L352.66,360.59 L353.04,360.18 L353.42,360.02 L353.80,357.41 L354.18,361.80 L354.56,361.70 L354.94,359.78 L355.32,359.46 L355.70,357.60 L356.08,360.31 L356.46,363.55 L356.84,362.50 L357.22,361.54 L357.60,359.87 L357.98,359.88 L358.36,358.86 L358.74,362.68 L359.12,358.77 L359.50,360.48 L359.88,359.38 L360.26,361.26 L360.64,359.49 L361.02,356.67 L361.40,357.86 L361.78,360.88 L362.16,361.26 L362.54,358.65 L362.92,360.88 L363.30,359.06 L363.68,359.35 L364.06,361.88 L364.44,357.13 L364.82,360.95 L365.20,360.06 L365.58,361.51 L365.96,360.31 L366.34,361.61 L366.72,357.83 L367.10,356.98 L367.48,358.86 L367.86,360.31 L368.24,356.75 L368.62,357.80 L369.00,360.20 L369.38,362.05 L369.76,361.90 L370.14,358.24 L370.52,357.58 L370.90,360.16 L371.28,358.93 L371.66,360.30 L372.04,356.24 L372.42,359.82 L372.80,355.61 L373.18,357.82 L373.56,360.38 L373.94,358.99 L374.32,358.51 L374.70,358.02 L375.08,357.10 L375.46,359.83 L375.84,355.72 L376.22,356.21 L376.60,360.34 L376.98,357.18 L377.36,358.19 L377.74,360.50 L378.12,359.79 L378.50,357.99 L378.88,360.27 L379.26,358.84 L379.64,359.19 L380.02,358.78 L380.40,358.83 L380.78,358.34 L381.16,358.95 L381.54,363.88 L381.92,361.46 L382.30,357.87 L382.68,357.81 L383.06,359.64 L383.44,358.76 L383.82,359.22 L384.20,360.17 L384.58,356.49 L384.96,359.73 L385.30,358.59 L385.34,357.52 L385.72,357.34 L386.10,357.98 L386.48,353.70 L386.86,353.74 L387.24,353.28 L387.62,352.01 L388.00,353.38 L388.38,351.18 L388.50,350.97 L388.76,349.76 L389.14,347.22 L389.52,344.83 L389.90,344.80 L390.28,342.05 L390.66,340.17 L390.90,338.84 L391.04,337.77 L391.42,332.20 L391.80,327.23 L392.18,320.24 L392.50,317.00 L392.56,314.82 L392.94,308.01 L393.32,301.81 L393.60,297.50 L393.70,299.60 L394.08,306.31 L394.46,317.02 L394.84,322.03 L394.90,322.27 L395.22,327.50 L395.60,331.04 L395.98,335.07 L396.36,336.88 L396.74,338.35 L397.12,340.21 L397.30,342.51 L397.50,346.42 L397.88,343.40 L398.26,346.74 L398.64,349.76 L399.02,350.72 L399.40,348.60 L399.78,355.03 L400.16,354.07 L400.50,355.35 L400.54,354.74 L400.92,353.79 L401.30,357.33 L401.68,355.54 L402.06,353.85 L402.44,356.91 L402.82,356.02 L403.20,356.52 L403.58,357.80 L403.96,356.21 L404.34,358.57 L404.72,357.71 L405.10,356.17 L405.48,360.51 L405.86,356.93 L406.10,358.17 L406.24,360.67 L406.62,359.72 L407.00,357.38 L407.38,357.23 L407.76,361.22 L408.14,358.07 L408.52,360.77 L408.90,357.59 L409.28,357.63 L409.66,356.45 L410.04,359.42 L410.42,357.26 L410.80,358.24 L411.18,358.03 L411.56,358.31 L411.94,358.65 L412.32,358.91 L412.70,359.74 L413.08,357.61 L413.46,359.05 L413.84,358.93 L414.22,360.82 L414.60,360.27 L414.98,358.03 L415.36,359.50 L415.74,358.93 L416.12,359.26 L416.50,361.90 L416.88,357.50 L417.26,358.68 L417.64,360.48 L418.02,358.65 L418.40,358.07 L418.78,357.77 L419.16,359.59 L419.54,360.44 L419.92,357.64 L420.30,358.23 L420.68,361.28 L421.06,360.40 L421.44,360.37 L421.82,361.23 L422.20,361.70 L422.58,361.37 L422.96,357.50 L423.34,357.29 L423.72,357.02 L424.10,360.28 L424.48,359.72 L424.86,361.09 L425.24,357.28 L425.62,361.23 L426.00,356.82 L426.38,360.46 L426.76,359.64 L427.14,359.50 L427.52,357.52 L427.90,357.59 L428.28,357.31 L428.66,357.45 L429.04,357.36 L429.42,357.33 L429.80,362.30 L430.18,356.92 L430.56,358.49 L430.94,362.08 L431.32,361.45 L431.70,357.01 L432.08,358.06 L432.46,358.06 L432.84,359.77 L433.22,359.13 L433.60,360.62 L433.98,360.94 L434.36,360.00 L434.74,359.94 L435.12,357.97 L435.50,361.26 L435.88,359.61 L436.26,360.42 L436.64,361.25 L437.02,359.24 L437.40,358.32 L437.78,360.45 L438.16,360.72 L438.54,359.51 L438.92,359.57 L439.30,358.57 L439.68,360.02 L440.06,359.92 L440.44,361.15 L440.82,360.87 L441.20,360.74 L441.58,361.74 L441.96,360.17 L442.34,360.30 L442.72,359.32 L443.10,359.69 L443.48,358.88 L443.86,358.05 L444.24,360.28 L444.62,360.84 L445.00,357.39 L445.38,359.86 L445.76,358.69 L446.14,357.61 L446.52,362.60 L446.90,359.78 L447.28,359.11 L447.66,359.24 L448.04,358.66 L448.42,360.59 L448.80,361.41 L449.18,359.47 L449.56,361.19 L449.94,360.62 L450.32,361.73 L450.70,360.42 L451.08,362.29 L451.46,358.72 L451.84,359.44 L452.22,359.92 L452.60,359.42 L452.98,358.12 L453.36,362.14 L453.74,358.59 L454.12,358.92 L454.50,358.75 L454.88,362.73 L455.26,360.91 L455.64,361.33 L456.02,360.02 L456.40,360.40 L456.78,358.90 L457.16,362.25 L457.54,359.59 L457.92,360.71 L458.30,358.82 L458.68,360.23 L459.06,359.28 L459.44,357.90 L459.60,360.65" stroke="#0b6bc6" stroke-width="2.3" fill="none" stroke-linejoin="round"/>
<path d="M341.80,355.59 L342.40,355.41 L343.00,355.04 L343.60,355.20 L344.20,354.94 L344.80,354.95 L345.40,355.12 L346.00,355.48 L346.60,355.49 L347.20,355.37 L347.80,355.27 L348.40,355.22 L349.00,355.16 L349.60,355.25 L350.20,355.12 L350.80,355.04 L351.40,355.34 L352.00,354.95 L352.60,355.01 L353.20,355.19 L353.80,355.38 L354.40,354.93 L355.00,354.98 L355.60,354.95 L356.20,354.80 L356.80,354.89 L357.40,355.18 L358.00,354.75 L358.60,354.94 L359.20,354.79 L359.80,354.98 L360.40,355.11 L361.00,354.63 L361.60,354.88 L362.20,354.66 L362.80,354.97 L363.40,354.98 L364.00,354.65 L364.60,354.64 L365.20,354.66 L365.80,354.62 L366.40,354.94 L367.00,354.82 L367.60,354.62 L368.20,354.20 L368.80,354.11 L369.40,353.78 L370.00,353.82 L370.60,354.02 L371.20,353.28 L371.80,353.35 L372.40,353.07 L373.00,353.35 L373.60,352.71 L374.20,352.49 L374.80,351.74 L375.40,351.65 L376.00,350.94 L376.60,350.55 L377.20,349.90 L377.80,349.33 L378.40,348.40 L379.00,347.80 L379.60,347.37 L380.20,346.14 L380.80,345.75 L381.40,344.41 L382.00,342.90 L382.60,341.36 L383.20,339.72 L383.80,338.54 L384.40,337.07 L385.00,334.89 L385.60,333.06 L386.20,331.55 L386.80,329.46 L387.40,327.77 L388.00,325.68 L388.60,324.36 L389.20,322.66 L389.80,320.75 L390.40,319.47 L391.00,318.06 L391.60,316.61 L392.20,315.70 L392.80,314.62 L393.40,313.88 L394.00,312.85 L394.60,312.47 L395.20,312.03 L395.80,311.84 L396.40,311.48 L397.00,312.32 L397.60,312.59 L398.20,313.09 L398.80,314.27 L399.40,314.80 L400.00,315.89 L400.60,317.07 L401.20,318.39 L401.80,320.23 L402.40,321.45 L403.00,323.51 L403.60,325.31 L404.20,327.62 L404.80,329.36 L405.40,331.32 L406.00,333.49 L406.60,335.61 L407.20,337.96 L407.80,339.99 L408.40,342.08 L409.00,343.80 L409.60,345.94 L410.20,347.26 L410.80,348.40 L411.40,349.37 L412.00,350.21 L412.60,351.16 L413.20,351.77 L413.80,352.73 L414.40,353.14 L415.00,354.02 L415.60,354.46 L416.20,354.28 L416.80,354.19 L417.40,354.91 L418.00,354.39 L418.60,354.88 L419.20,355.05 L419.80,354.95 L420.40,355.33 L421.00,354.89 L421.60,355.37 L422.20,355.55 L422.80,355.59 L423.40,355.58 L424.00,355.30 L424.60,355.37 L425.20,355.62 L425.80,355.30 L426.40,355.23 L427.00,355.08 L427.60,355.22 L428.20,355.19 L428.80,355.75 L429.40,355.33 L430.00,355.38 L430.60,355.82 L431.20,355.64 L431.80,355.47 L432.40,355.26 L433.00,355.45 L433.60,355.41 L434.20,355.89 L434.80,355.53 L435.40,355.93 L436.00,355.45 L436.60,355.31 L437.20,355.92 L437.80,355.36 L438.40,355.87 L439.00,355.75 L439.60,355.54 L440.20,355.94 L440.80,355.67 L441.40,356.07 L442.00,355.79 L442.60,356.07 L443.20,356.08 L443.80,355.70 L444.40,355.94 L445.00,355.97 L445.60,355.94 L446.20,355.51 L446.80,355.99 L447.40,356.05 L448.00,355.67 L448.60,355.61 L449.20,355.61 L449.80,355.95 L450.40,355.66 L451.00,356.19 L451.60,355.90 L452.20,356.32 L452.80,356.15 L453.40,355.95 L454.00,355.79 L454.60,355.98 L455.20,356.12 L455.80,356.31 L456.40,356.34 L457.00,355.96 L457.60,355.76 L458.20,356.23 L458.80,356.26 L459.40,356.24 L460.00,356.36 L460.60,356.38 L461.20,356.27 L461.80,356.42 L462.40,355.94 L463.00,356.53 L463.60,356.35 L464.20,355.96 L464.80,356.03 L465.40,356.37 L466.00,356.15 L466.60,356.60 L467.20,356.16 L467.80,356.32 L468.40,356.34 L469.00,356.66 L469.60,356.23 L470.20,356.65 L470.80,356.55 L471.40,356.45 L472.00,356.73 L472.60,356.70 L473.20,356.62 L473.80,356.49 L474.40,356.15 L475.00,356.28 L475.60,356.59" stroke="#2ab53b" stroke-width="2.5" fill="none" stroke-linejoin="round"/>
<path d="M67.80,479.16 L68.00,471.50 L68.30,483.50 L68.60,478.77 L68.56,480.46 L68.94,476.90 L69.32,480.94 L69.70,476.00 L70.08,475.97 L70.46,480.17 L70.84,475.62 L71.22,479.24 L71.60,475.22 L72.00,470.00 L72.30,483.00 L72.60,476.37 L72.36,479.75 L72.74,479.01 L73.12,478.09 L73.50,479.01 L73.88,476.28 L74.26,479.04 L74.64,478.31 L75.00,476.68 L75.02,478.06 L75.40,476.80 L75.78,476.55 L76.16,473.89 L76.54,476.71 L76.92,476.12 L77.30,476.67 L77.68,477.94 L78.06,479.80 L78.44,476.96 L78.82,476.10 L79.20,477.03 L79.58,476.93 L79.96,480.01 L80.34,480.22 L80.72,477.18 L81.10,478.23 L81.48,474.64 L81.86,479.39 L82.24,476.09 L82.62,475.63 L83.00,476.56 L83.38,475.16 L83.76,477.72 L84.14,474.30 L84.52,476.25 L84.90,476.50 L85.28,475.13 L85.66,480.04 L86.04,477.26 L86.42,475.66 L86.80,479.04 L87.18,477.17 L87.56,478.58 L87.94,476.55 L88.32,478.55 L88.70,477.96 L89.08,474.71 L89.46,474.41 L89.84,477.96 L90.22,474.00 L90.60,477.04 L90.98,477.53 L91.36,472.84 L91.74,475.41 L92.12,474.99 L92.50,473.17 L92.88,476.98 L93.26,473.39 L93.64,475.68 L94.02,478.23 L94.40,475.02 L94.78,480.45 L95.16,474.78 L95.54,475.00 L95.92,473.09 L96.30,474.21 L96.68,476.62 L97.06,474.94 L97.44,473.35 L97.82,477.56 L98.20,474.22 L98.58,473.67 L98.96,475.81 L99.34,477.45 L99.72,476.07 L100.10,473.73 L100.48,476.09 L100.86,474.77 L101.24,477.91 L101.62,477.56 L102.00,475.00 L102.38,477.87 L102.76,473.05 L103.14,474.36 L103.52,474.22 L103.90,473.49 L104.28,473.35 L104.66,473.24 L105.04,475.28 L105.42,471.26 L105.80,468.42 L106.18,467.77 L106.30,471.69 L106.56,468.37 L106.94,463.98 L107.32,456.91 L107.70,455.18 L107.90,454.46 L108.08,451.26 L108.46,445.94 L108.84,438.64 L109.22,432.90 L109.50,430.65 L109.60,429.43 L109.98,424.32 L110.36,422.47 L110.74,417.69 L111.10,415.00 L111.12,415.11 L111.50,419.91 L111.88,426.27 L112.26,428.80 L112.64,435.26 L112.70,436.09 L113.02,441.98 L113.40,445.54 L113.78,446.86 L114.16,453.11 L114.30,455.17 L114.54,458.52 L114.92,462.01 L115.30,462.54 L115.68,461.60 L116.06,466.68 L116.44,466.27 L116.82,469.17 L117.20,473.01 L117.50,474.03 L117.58,473.18 L117.96,474.35 L118.34,473.39 L118.72,471.59 L119.10,474.02 L119.48,474.97 L119.86,474.41 L120.24,475.91 L120.62,471.40 L121.00,474.13 L121.38,476.64 L121.76,472.80 L122.14,473.73 L122.52,473.49 L122.90,478.54 L123.00,477.06 L123.28,471.26 L123.66,476.26 L124.04,476.79 L124.42,477.88 L124.80,477.61 L125.18,476.08 L125.56,477.28 L125.94,475.16 L126.32,478.95 L126.70,478.04 L127.08,476.82 L127.46,474.91 L127.84,478.72 L128.22,475.63 L128.60,475.89 L128.98,478.77 L129.36,476.29 L129.74,481.25 L130.12,475.24 L130.50,475.75 L130.88,476.81 L131.26,475.43 L131.64,475.30 L132.02,479.45 L132.40,478.73 L132.78,475.73 L133.16,478.51 L133.54,476.31 L133.92,476.24 L134.30,478.41 L134.68,474.28 L135.06,478.99 L135.44,477.12 L135.82,479.16 L136.20,481.26 L136.58,480.23 L136.96,476.42 L137.34,477.03 L137.72,476.95 L138.10,479.52 L138.48,475.63 L138.86,475.89 L139.00,480.71 L139.24,479.14 L139.62,480.27 L140.00,478.92 L140.38,477.97 L140.76,475.87 L141.14,480.35 L141.52,476.12 L141.90,476.39 L142.28,478.90 L142.66,478.20 L143.04,479.50 L143.42,479.47 L143.80,480.85 L144.18,477.83 L144.56,481.51 L144.94,480.06 L145.32,480.57 L145.70,477.39 L146.08,476.78 L146.46,476.72 L146.84,480.00 L147.22,479.46 L147.60,475.79 L147.98,476.60 L148.36,479.48 L148.74,481.24 L149.12,479.18 L149.50,480.37 L149.88,481.71 L150.26,477.18 L150.64,480.90 L151.02,478.67 L151.40,480.64 L151.78,479.79 L152.16,479.25 L152.54,479.38 L152.92,478.56 L153.30,479.10 L153.68,477.37 L154.06,480.90 L154.44,479.17 L154.82,480.07 L155.20,476.59 L155.58,476.96 L155.96,479.83 L156.34,478.26 L156.72,477.93 L157.10,480.02 L157.48,481.08 L157.86,477.73 L158.24,478.94 L158.62,480.11 L159.00,478.53 L159.38,477.81 L159.76,479.32 L160.14,479.35 L160.52,480.51 L160.90,477.12 L161.28,478.80 L161.66,479.27 L162.04,477.38 L162.42,478.33 L162.80,480.32 L163.18,478.46 L163.56,480.42 L163.94,480.78 L164.32,482.48 L164.70,481.59 L165.08,479.73 L165.46,479.00 L165.84,478.80 L166.22,481.39 L166.60,478.66 L166.98,481.31 L167.36,479.55 L167.74,478.64 L168.12,478.80 L168.50,480.28 L168.88,476.89 L169.26,480.89 L169.64,478.46 L170.02,477.83 L170.40,480.34 L170.78,482.18 L171.16,480.01 L171.54,479.11 L171.92,478.25 L172.30,481.80 L172.68,479.16 L173.06,481.56 L173.44,481.22 L173.82,483.28 L174.20,479.36 L174.58,479.51 L174.96,479.37 L175.34,478.52 L175.72,477.76 L176.10,480.12 L176.48,479.59 L176.86,478.62 L177.00,479.05" stroke="#0b6bc6" stroke-width="2.3" fill="none" stroke-linejoin="round"/>
<path d="M59.30,470.10 L59.90,469.65 L60.50,469.83 L61.10,470.19 L61.70,469.82 L62.30,470.03 L62.90,469.89 L63.50,470.10 L64.10,470.05 L64.70,469.85 L65.30,470.18 L65.90,469.81 L66.50,469.82 L67.10,470.09 L67.70,469.78 L68.30,469.95 L68.90,470.14 L69.50,469.77 L70.10,469.85 L70.70,469.99 L71.30,470.06 L71.90,469.73 L72.50,469.75 L73.10,469.81 L73.70,469.88 L74.30,470.20 L74.90,469.92 L75.50,470.00 L76.10,469.70 L76.70,470.05 L77.30,470.08 L77.90,469.88 L78.50,470.00 L79.10,469.81 L79.70,469.78 L80.30,469.52 L80.90,469.30 L81.50,469.65 L82.10,469.45 L82.70,469.71 L83.30,469.47 L83.90,469.25 L84.50,469.12 L85.10,469.19 L85.70,469.43 L86.30,469.33 L86.90,468.96 L87.50,469.20 L88.10,469.09 L88.70,469.49 L89.30,469.35 L89.90,469.27 L90.50,468.78 L91.10,469.09 L91.70,468.54 L92.30,468.51 L92.90,468.35 L93.50,467.66 L94.10,467.88 L94.70,467.15 L95.30,467.12 L95.90,467.04 L96.50,466.18 L97.10,465.68 L97.70,465.52 L98.30,464.60 L98.90,463.35 L99.50,462.97 L100.10,461.81 L100.70,460.79 L101.30,459.73 L101.90,458.04 L102.50,456.80 L103.10,455.25 L103.70,453.98 L104.30,451.96 L104.90,450.32 L105.50,449.28 L106.10,447.11 L106.70,446.02 L107.30,444.34 L107.90,442.72 L108.50,441.41 L109.10,440.05 L109.70,438.48 L110.30,437.44 L110.90,436.52 L111.50,435.57 L112.10,434.63 L112.70,433.88 L113.30,433.11 L113.90,432.73 L114.50,432.09 L115.10,432.08 L115.70,432.10 L116.30,432.14 L116.90,432.46 L117.50,433.32 L118.10,434.33 L118.70,435.30 L119.30,436.86 L119.90,438.66 L120.50,440.31 L121.10,441.61 L121.70,443.19 L122.30,445.15 L122.90,447.20 L123.50,448.97 L124.10,450.81 L124.70,452.84 L125.30,454.61 L125.90,456.09 L126.50,457.39 L127.10,458.83 L127.70,460.34 L128.30,461.26 L128.90,462.41 L129.50,463.70 L130.10,464.46 L130.70,465.00 L131.30,465.58 L131.90,466.35 L132.50,467.11 L133.10,467.27 L133.70,467.90 L134.30,468.31 L134.90,467.82 L135.50,468.08 L136.10,468.68 L136.70,468.90 L137.30,468.62 L137.90,468.93 L138.50,469.45 L139.10,469.10 L139.70,469.30 L140.30,469.73 L140.90,469.38 L141.50,469.70 L142.10,469.44 L142.70,469.48 L143.30,469.45 L143.90,469.46 L144.50,469.66 L145.10,469.20 L145.70,469.32 L146.30,469.72 L146.90,469.50 L147.50,469.80 L148.10,469.85 L148.70,469.31 L149.30,469.71 L149.90,469.22 L150.50,469.63 L151.10,469.39 L151.70,469.55 L152.30,469.42 L152.90,469.32 L153.50,469.66 L154.10,469.81 L154.70,469.57 L155.30,469.59 L155.90,469.49 L156.50,469.92 L157.10,469.34 L157.70,469.87 L158.30,469.48 L158.90,469.39 L159.50,469.58 L160.10,469.69 L160.70,469.34 L161.30,469.42 L161.90,469.67 L162.50,469.46 L163.10,469.92 L163.70,469.40 L164.30,469.37 L164.90,470.02 L165.50,469.86 L166.10,469.98 L166.70,469.71 L167.30,469.65 L167.90,469.81 L168.50,469.76 L169.10,469.58 L169.70,469.52 L170.30,470.03 L170.90,469.56 L171.50,469.44 L172.10,469.71 L172.70,469.64 L173.30,469.79 L173.90,469.53 L174.50,469.78 L175.10,469.67 L175.70,469.62 L176.30,470.08 L176.90,469.61 L177.50,470.05 L178.10,470.14 L178.70,469.89 L179.30,469.99 L179.90,470.10 L180.50,470.15 L181.10,470.04 L181.70,469.76 L182.30,469.70 L182.90,469.84 L183.50,470.06 L184.10,470.03 L184.70,469.81 L185.30,469.86 L185.90,470.14 L186.50,470.14 L187.10,469.96 L187.70,469.67 L188.30,469.81 L188.90,469.80 L189.50,469.93 L190.10,469.98 L190.70,469.93 L191.30,470.32 L191.90,470.24 L192.50,469.73" stroke="#2ab53b" stroke-width="2.5" fill="none" stroke-linejoin="round"/>
<path d="M208.80,467.49 L209.00,462.70 L209.30,483.50 L209.60,469.35 L209.56,473.64 L209.94,468.27 L210.32,475.61 L210.70,475.19 L211.08,473.03 L211.50,463.00 L211.80,483.00 L212.10,470.27 L211.84,472.65 L212.22,470.44 L212.60,476.64 L212.98,475.39 L213.36,465.87 L213.74,476.60 L214.00,465.00 L214.30,483.50 L214.60,470.29 L214.50,469.91 L214.88,473.81 L215.26,474.74 L215.64,474.06 L216.02,476.56 L216.50,466.00 L216.80,482.00 L217.10,474.70 L216.78,474.14 L217.16,469.37 L217.54,469.83 L217.60,471.49 L217.92,474.99 L218.30,474.36 L218.68,475.19 L219.06,470.82 L219.44,474.40 L219.82,473.63 L220.20,472.24 L220.58,476.73 L220.96,472.72 L221.34,475.20 L221.72,475.48 L222.10,475.19 L222.48,469.94 L222.86,473.74 L223.24,471.11 L223.62,475.49 L224.00,470.76 L224.38,473.97 L224.76,477.48 L225.14,471.21 L225.52,472.48 L225.90,475.10 L226.28,474.40 L226.66,466.77 L227.04,467.30 L227.42,475.35 L227.80,474.10 L228.18,469.57 L228.56,475.52 L228.94,475.15 L229.32,470.82 L229.70,473.34 L230.08,470.94 L230.46,472.80 L230.84,467.79 L231.22,473.49 L231.60,474.43 L231.98,474.11 L232.36,468.62 L232.74,474.81 L233.12,471.25 L233.50,469.65 L233.88,469.94 L234.26,470.59 L234.64,472.98 L235.02,471.96 L235.40,470.74 L235.78,472.80 L236.16,466.25 L236.54,471.16 L236.92,472.41 L237.30,468.66 L237.68,466.93 L238.06,476.09 L238.44,472.19 L238.82,472.17 L239.20,472.67 L239.58,469.54 L239.96,469.57 L240.00,474.65 L240.34,475.49 L240.72,474.03 L241.10,474.81 L241.48,474.65 L241.86,469.42 L242.24,475.57 L242.62,470.91 L243.00,470.58 L243.30,468.63 L243.38,470.63 L243.76,471.07 L244.14,471.34 L244.52,465.95 L244.90,471.75 L245.28,472.30 L245.66,464.36 L246.04,467.21 L246.42,467.80 L246.80,462.43 L247.18,462.64 L247.30,462.26 L247.56,461.28 L247.94,456.73 L248.32,460.99 L248.70,450.65 L249.08,447.52 L249.46,445.86 L249.70,444.39 L249.84,443.65 L250.22,442.27 L250.60,437.87 L250.98,432.81 L251.30,430.95 L251.36,427.42 L251.74,422.54 L252.12,421.55 L252.20,421.50 L252.50,423.98 L252.88,427.61 L253.26,434.43 L253.64,436.23 L253.70,438.36 L254.02,443.63 L254.40,439.15 L254.78,441.70 L255.16,445.77 L255.54,448.49 L255.92,450.76 L256.00,454.49 L256.30,455.55 L256.68,455.31 L257.06,457.65 L257.44,457.63 L257.82,458.82 L258.20,460.14 L258.58,460.91 L258.96,459.22 L259.34,464.50 L259.72,462.66 L260.10,466.59 L260.48,460.10 L260.86,461.25 L261.24,458.03 L261.62,462.18 L262.00,462.54 L262.38,466.38 L262.76,462.63 L263.14,465.01 L263.52,465.04 L263.90,459.44 L264.28,465.62 L264.66,465.96 L265.04,467.08 L265.42,464.22 L265.80,466.70 L266.18,463.76 L266.56,465.73 L266.94,464.13 L267.30,465.46 L267.32,469.52 L267.70,466.94 L268.08,465.18 L268.46,471.35 L268.84,469.53 L269.22,469.82 L269.60,463.73 L269.98,467.20 L270.36,465.71 L270.74,465.96 L271.12,466.43 L271.50,470.64 L271.88,465.13 L272.26,470.16 L272.64,469.01 L273.02,472.30 L273.40,468.88 L273.78,469.75 L274.16,465.46 L274.54,467.18 L274.92,472.13 L275.30,469.34 L275.68,470.30 L276.06,475.98 L276.44,471.01 L276.82,471.80 L277.20,475.84 L277.58,468.07 L277.96,474.57 L278.34,474.01 L278.72,471.40 L279.10,473.32 L279.48,474.15 L279.86,468.52 L280.00,469.97 L280.24,471.21 L280.62,472.10 L281.00,476.44 L281.38,473.73 L281.76,471.86 L282.14,469.99 L282.52,476.33 L282.90,474.00 L283.28,472.09 L283.66,468.81 L284.04,473.98 L284.42,470.49 L284.80,470.46 L285.18,476.80 L285.56,470.92 L285.94,477.55 L286.32,474.66 L286.70,471.75 L287.08,472.78 L287.46,472.16 L287.84,470.02 L288.22,469.01 L288.60,470.76 L288.98,472.65 L289.36,471.56 L289.74,471.55 L290.12,471.70 L290.50,471.11 L290.88,475.05 L291.26,474.82 L291.64,469.65 L292.02,470.58 L292.40,475.00 L292.78,473.44 L293.16,470.83 L293.54,470.54 L293.92,470.04 L294.30,475.61 L294.68,476.58 L295.06,471.41 L295.44,473.45 L295.82,469.88 L296.20,475.89 L296.58,472.69 L296.96,475.64 L297.34,471.94 L297.72,470.55 L298.10,471.51 L298.48,469.57 L298.86,471.38 L299.24,474.23 L299.62,477.94 L300.00,470.38 L300.38,472.11 L300.76,473.16 L301.14,468.36 L301.52,470.02 L301.90,473.44 L302.28,470.55 L302.66,470.16 L303.04,468.54 L303.42,478.53 L303.80,475.21 L304.18,470.56 L304.56,474.35 L304.94,475.32 L305.32,469.57 L305.70,477.62 L306.08,475.43 L306.46,477.15 L306.84,472.07 L307.22,474.49 L307.60,472.90 L307.98,474.03 L308.36,474.18 L308.74,475.47 L309.12,477.49 L309.50,466.98 L309.88,470.09 L310.26,472.37 L310.64,471.02 L311.02,476.19 L311.40,473.15 L311.78,472.26 L312.16,479.69 L312.54,469.23 L312.92,480.07 L313.30,473.94 L313.68,476.66 L314.06,471.49 L314.44,471.13 L314.82,472.95 L315.20,475.25 L315.58,476.79 L315.96,477.61 L316.34,475.40 L316.72,473.49 L317.10,474.77 L317.48,476.40 L317.86,471.55 L318.24,475.21 L318.40,476.15" stroke="#0b6bc6" stroke-width="2.3" fill="none" stroke-linejoin="round"/>
<path d="M200.40,469.13 L201.00,468.54 L201.60,468.48 L202.20,468.73 L202.80,468.90 L203.40,468.83 L204.00,468.74 L204.60,468.51 L205.20,468.52 L205.80,468.47 L206.40,468.37 L207.00,468.49 L207.60,468.72 L208.20,468.38 L208.80,468.32 L209.40,468.58 L210.00,468.32 L210.60,468.29 L211.20,468.13 L211.80,468.39 L212.40,468.19 L213.00,468.17 L213.60,468.58 L214.20,468.03 L214.80,468.55 L215.40,468.63 L216.00,468.16 L216.60,468.04 L217.20,468.28 L217.80,468.66 L218.40,468.48 L219.00,468.24 L219.60,468.55 L220.20,468.35 L220.80,468.25 L221.40,468.49 L222.00,468.57 L222.60,468.25 L223.20,468.73 L223.80,468.67 L224.40,468.50 L225.00,468.79 L225.60,468.67 L226.20,468.44 L226.80,468.81 L227.40,468.98 L228.00,468.90 L228.60,468.65 L229.20,468.49 L229.80,468.72 L230.40,468.78 L231.00,468.92 L231.60,468.80 L232.20,468.45 L232.80,467.89 L233.40,467.69 L234.00,467.41 L234.60,466.94 L235.20,466.12 L235.80,465.65 L236.40,465.18 L237.00,464.54 L237.60,463.76 L238.20,463.23 L238.80,462.11 L239.40,461.29 L240.00,460.42 L240.60,459.59 L241.20,458.57 L241.80,457.11 L242.40,455.63 L243.00,454.41 L243.60,452.81 L244.20,451.18 L244.80,449.31 L245.40,447.29 L246.00,445.38 L246.60,443.27 L247.20,441.25 L247.80,439.31 L248.40,437.00 L249.00,435.25 L249.60,433.18 L250.20,430.68 L250.80,429.04 L251.40,426.47 L252.00,424.52 L252.60,422.49 L253.20,420.24 L253.80,418.66 L254.40,417.34 L255.00,415.50 L255.60,414.56 L256.20,413.86 L256.80,413.47 L257.40,413.83 L258.00,414.78 L258.60,415.46 L259.20,417.13 L259.80,417.60 L260.40,419.03 L261.00,420.20 L261.60,421.41 L262.20,422.17 L262.80,423.44 L263.40,424.98 L264.00,427.54 L264.60,429.73 L265.20,432.01 L265.80,434.83 L266.40,438.04 L267.00,440.99 L267.60,444.02 L268.20,446.13 L268.80,449.16 L269.40,451.59 L270.00,453.47 L270.60,455.38 L271.20,457.18 L271.80,458.75 L272.40,459.54 L273.00,460.93 L273.60,461.30 L274.20,462.41 L274.80,463.18 L275.40,463.93 L276.00,464.95 L276.60,464.99 L277.20,465.73 L277.80,466.17 L278.40,466.08 L279.00,467.10 L279.60,467.16 L280.20,467.54 L280.80,467.33 L281.40,467.84 L282.00,467.52 L282.60,467.74 L283.20,467.82 L283.80,467.72 L284.40,467.73 L285.00,467.75 L285.60,467.94 L286.20,467.56 L286.80,467.90 L287.40,468.05 L288.00,467.69 L288.60,467.63 L289.20,468.24 L289.80,467.98 L290.40,467.78 L291.00,467.87 L291.60,467.70 L292.20,468.23 L292.80,467.86 L293.40,467.84 L294.00,468.22 L294.60,467.96 L295.20,468.49 L295.80,468.24 L296.40,468.12 L297.00,468.47 L297.60,468.20 L298.20,468.65 L298.80,468.66 L299.40,468.67 L300.00,468.48 L300.60,468.51 L301.20,468.24 L301.80,468.35 L302.40,468.24 L303.00,468.23 L303.60,468.84 L304.20,468.68 L304.80,468.68 L305.40,468.97 L306.00,468.48 L306.60,469.04 L307.20,468.52 L307.80,469.00 L308.40,469.11 L309.00,468.87 L309.60,468.68 L310.20,468.92 L310.80,469.16 L311.40,468.80 L312.00,469.30 L312.60,468.79 L313.20,468.81 L313.80,469.30 L314.40,468.83 L315.00,469.09 L315.60,469.17 L316.20,469.24 L316.80,469.17 L317.40,469.37 L318.00,469.26 L318.60,469.16 L319.20,469.07 L319.80,469.25 L320.40,469.21 L321.00,469.44 L321.60,469.27 L322.20,469.70 L322.80,469.44 L323.40,469.24 L324.00,469.65 L324.60,469.51 L325.20,469.88 L325.80,469.85 L326.40,469.83 L327.00,469.70 L327.60,469.87 L328.20,469.60 L328.80,470.09 L329.40,469.94 L330.00,469.52 L330.60,469.97 L331.20,469.53 L331.80,469.78 L332.40,469.97 L333.00,469.95 L333.60,469.67 L334.20,470.20" stroke="#2ab53b" stroke-width="2.5" fill="none" stroke-linejoin="round"/>
<path d="M349.80,461.69 L350.18,465.96 L350.56,466.78 L350.94,467.38 L351.32,467.67 L351.70,466.38 L352.00,458.00 L352.30,474.70 L352.60,460.73 L352.46,463.12 L352.84,464.97 L353.22,462.85 L353.60,467.10 L353.98,460.81 L354.36,459.70 L354.74,469.95 L355.12,458.38 L355.50,459.97 L355.88,467.34 L356.26,467.49 L356.64,460.83 L357.00,456.00 L357.30,475.00 L357.60,459.13 L357.40,459.77 L357.78,461.52 L358.16,462.77 L358.54,463.70 L358.92,464.08 L359.30,453.67 L359.68,458.42 L360.06,458.70 L360.44,463.62 L360.82,467.02 L361.20,466.49 L361.58,461.19 L361.96,460.40 L362.34,464.74 L362.72,469.06 L363.10,460.74 L363.48,457.94 L363.86,469.24 L364.24,463.45 L364.62,467.35 L365.00,467.36 L365.38,466.22 L365.76,468.55 L366.14,463.50 L366.52,462.11 L366.90,460.79 L367.28,463.82 L367.66,462.12 L368.04,462.02 L368.42,458.54 L368.80,465.64 L369.18,462.38 L369.56,460.70 L369.94,463.91 L370.32,458.39 L370.70,458.90 L371.08,460.37 L371.46,467.43 L371.84,461.38 L372.00,457.14 L372.22,456.24 L372.60,458.96 L372.98,460.84 L373.36,463.61 L373.74,463.43 L374.12,465.33 L374.50,460.94 L374.88,464.04 L375.26,463.56 L375.64,460.56 L376.02,466.39 L376.40,461.65 L376.78,460.91 L377.16,463.00 L377.54,461.99 L377.92,462.47 L378.30,465.26 L378.68,460.51 L379.06,467.73 L379.44,466.24 L379.82,464.33 L380.20,469.65 L380.58,463.98 L380.96,468.13 L381.34,467.75 L381.72,461.03 L382.10,463.81 L382.48,463.24 L382.86,462.66 L383.24,465.04 L383.62,468.63 L384.00,468.48 L384.38,461.64 L384.76,463.84 L385.14,466.71 L385.52,464.85 L385.90,462.14 L386.28,464.70 L386.66,462.95 L387.04,461.81 L387.42,457.97 L387.80,458.23 L388.18,461.16 L388.56,461.11 L388.94,458.78 L389.10,460.83 L389.32,456.99 L389.70,454.24 L390.08,447.39 L390.46,445.10 L390.84,441.58 L391.00,441.04 L391.22,440.73 L391.60,434.19 L391.98,431.01 L392.30,430.33 L392.36,426.65 L392.74,422.69 L393.10,420.50 L393.12,419.22 L393.50,426.36 L393.88,430.01 L394.26,433.41 L394.40,432.00 L394.64,440.11 L395.02,442.79 L395.40,440.05 L395.78,446.13 L396.16,448.53 L396.30,448.21 L396.54,455.38 L396.92,456.87 L397.30,449.42 L397.68,458.97 L398.06,448.32 L398.44,451.60 L398.82,453.15 L399.20,455.97 L399.58,451.22 L399.96,458.39 L400.30,456.73 L400.34,458.65 L400.72,457.36 L401.10,455.27 L401.48,455.43 L401.86,457.34 L402.24,452.75 L402.62,457.59 L403.00,455.38 L403.38,462.54 L403.76,455.52 L404.14,461.05 L404.52,461.86 L404.90,457.16 L405.28,457.42 L405.66,459.43 L406.04,457.44 L406.42,457.89 L406.80,457.72 L407.18,459.83 L407.56,464.96 L407.94,454.95 L408.30,458.13 L408.32,458.65 L408.70,466.01 L409.08,458.94 L409.46,460.74 L409.84,457.28 L410.22,458.14 L410.60,460.77 L410.98,463.94 L411.36,457.03 L411.74,462.21 L412.12,463.84 L412.50,466.06 L412.88,463.63 L413.26,459.06 L413.64,459.03 L414.02,464.02 L414.40,461.47 L414.78,461.37 L415.16,467.31 L415.54,468.19 L415.92,468.62 L416.30,462.86 L416.68,464.15 L417.06,467.25 L417.44,466.34 L417.82,463.19 L418.20,472.16 L418.58,463.18 L418.96,465.98 L419.34,468.97 L419.72,462.68 L420.10,468.93 L420.48,466.91 L420.86,468.31 L421.00,466.15 L421.24,461.95 L421.62,469.45 L422.00,467.50 L422.38,462.44 L422.76,466.19 L423.14,463.02 L423.52,462.88 L423.90,464.25 L424.28,463.85 L424.66,462.81 L425.04,465.87 L425.42,461.85 L425.80,469.79 L426.18,463.06 L426.56,463.88 L426.94,460.49 L427.32,466.38 L427.70,470.28 L428.08,462.88 L428.46,470.67 L428.84,465.84 L429.22,467.83 L429.60,469.11 L429.98,475.99 L430.36,467.42 L430.74,465.41 L431.12,463.50 L431.50,469.02 L431.88,464.09 L432.26,465.36 L432.64,468.81 L433.02,463.46 L433.40,468.05 L433.78,461.50 L434.16,464.99 L434.54,465.61 L434.92,467.56 L435.30,469.37 L435.68,467.26 L436.06,462.73 L436.44,468.86 L436.82,462.60 L437.20,467.70 L437.58,468.03 L437.96,464.89 L438.34,462.14 L438.72,466.96 L439.10,462.76 L439.48,462.23 L439.86,467.94 L440.24,460.46 L440.62,468.46 L441.00,462.00 L441.38,462.67 L441.76,463.41 L442.14,462.33 L442.52,464.91 L442.90,472.75 L443.28,461.42 L443.66,465.13 L444.04,461.36 L444.42,461.79 L444.80,466.14 L445.18,465.82 L445.56,465.06 L445.94,460.41 L446.32,459.38 L446.70,461.24 L447.08,467.09 L447.46,459.22 L447.84,465.84 L448.22,460.43 L448.60,465.56 L448.98,459.27 L449.36,464.59 L449.74,460.40 L450.12,455.49 L450.50,464.31 L450.88,459.20 L451.26,460.38 L451.64,464.79 L452.02,461.63 L452.40,463.39 L452.78,457.85 L453.16,462.22 L453.54,465.40 L453.92,465.64 L454.30,462.12 L454.68,460.30 L455.06,465.00 L455.44,467.22 L455.82,466.02 L456.20,463.46 L456.58,465.04 L456.96,459.86 L457.34,459.08 L457.72,457.77 L457.80,458.47" stroke="#0b6bc6" stroke-width="2.3" fill="none" stroke-linejoin="round"/>
<path d="M341.40,469.21 L342.00,469.30 L342.60,468.87 L343.20,468.88 L343.80,468.99 L344.40,469.11 L345.00,469.30 L345.60,469.08 L346.20,468.84 L346.80,469.15 L347.40,468.74 L348.00,468.70 L348.60,468.62 L349.20,469.00 L349.80,468.99 L350.40,468.90 L351.00,468.95 L351.60,468.69 L352.20,468.69 L352.80,468.94 L353.40,468.80 L354.00,468.86 L354.60,469.14 L355.20,468.81 L355.80,468.99 L356.40,468.50 L357.00,468.79 L357.60,468.47 L358.20,468.55 L358.80,468.53 L359.40,468.64 L360.00,468.47 L360.60,468.99 L361.20,468.53 L361.80,468.51 L362.40,468.33 L363.00,468.52 L363.60,468.79 L364.20,468.61 L364.80,468.83 L365.40,468.62 L366.00,468.62 L366.60,468.45 L367.20,468.72 L367.80,468.43 L368.40,468.19 L369.00,468.23 L369.60,468.61 L370.20,468.08 L370.80,468.15 L371.40,468.44 L372.00,468.44 L372.60,468.19 L373.20,468.17 L373.80,467.80 L374.40,467.65 L375.00,466.96 L375.60,466.92 L376.20,467.01 L376.80,466.42 L377.40,465.95 L378.00,465.85 L378.60,465.71 L379.20,464.82 L379.80,464.10 L380.40,463.55 L381.00,462.58 L381.60,461.08 L382.20,460.33 L382.80,458.83 L383.40,457.42 L384.00,456.09 L384.60,453.92 L385.20,452.24 L385.80,449.81 L386.40,447.88 L387.00,445.10 L387.60,442.96 L388.20,440.34 L388.80,438.59 L389.40,436.35 L390.00,433.87 L390.60,431.73 L391.20,430.00 L391.80,427.63 L392.40,425.73 L393.00,423.90 L393.60,422.84 L394.20,421.26 L394.80,419.74 L395.40,418.74 L396.00,417.89 L396.60,417.03 L397.20,416.11 L397.80,415.99 L398.40,415.64 L399.00,414.87 L399.60,414.55 L400.20,414.68 L400.80,414.60 L401.40,415.12 L402.00,416.49 L402.60,418.17 L403.20,419.38 L403.80,421.94 L404.40,424.47 L405.00,426.98 L405.60,430.02 L406.20,433.20 L406.80,436.60 L407.40,439.28 L408.00,442.43 L408.60,445.50 L409.20,448.19 L409.80,450.69 L410.40,452.64 L411.00,453.99 L411.60,455.79 L412.20,457.26 L412.80,458.52 L413.40,459.71 L414.00,460.59 L414.60,461.38 L415.20,462.50 L415.80,463.47 L416.40,464.11 L417.00,464.80 L417.60,465.66 L418.20,465.75 L418.80,466.49 L419.40,467.18 L420.00,467.53 L420.60,467.45 L421.20,468.08 L421.80,468.48 L422.40,468.13 L423.00,468.27 L423.60,468.70 L424.20,468.35 L424.80,468.42 L425.40,468.48 L426.00,468.67 L426.60,468.41 L427.20,468.73 L427.80,468.61 L428.40,468.41 L429.00,468.58 L429.60,468.37 L430.20,468.21 L430.80,468.53 L431.40,468.24 L432.00,468.43 L432.60,468.82 L433.20,468.93 L433.80,468.40 L434.40,468.39 L435.00,468.54 L435.60,468.62 L436.20,468.42 L436.80,468.90 L437.40,468.46 L438.00,468.74 L438.60,468.57 L439.20,468.85 L439.80,468.49 L440.40,468.77 L441.00,469.03 L441.60,468.46 L442.20,468.60 L442.80,468.53 L443.40,469.08 L444.00,468.98 L444.60,468.69 L445.20,469.17 L445.80,468.67 L446.40,468.91 L447.00,469.09 L447.60,469.02 L448.20,468.66 L448.80,468.66 L449.40,468.77 L450.00,469.32 L450.60,469.30 L451.20,468.90 L451.80,468.73 L452.40,469.16 L453.00,468.87 L453.60,469.37 L454.20,469.40 L454.80,469.32 L455.40,469.33 L456.00,469.35 L456.60,469.40 L457.20,469.10 L457.80,469.35 L458.40,468.87 L459.00,469.36 L459.60,469.20 L460.20,469.59 L460.80,469.47 L461.40,469.25 L462.00,469.44 L462.60,469.37 L463.20,469.41 L463.80,469.00 L464.40,469.16 L465.00,469.20 L465.60,469.53 L466.20,469.69 L466.80,469.50 L467.40,469.61 L468.00,469.54 L468.60,469.21 L469.20,469.30 L469.80,469.55 L470.40,469.68 L471.00,469.46 L471.60,469.67 L472.20,469.43 L472.80,469.43 L473.40,469.34 L474.00,469.52" stroke="#2ab53b" stroke-width="2.5" fill="none" stroke-linejoin="round"/>
<g font-size="14" fill="#000" stroke="#000" stroke-width="0.28"><text x="52.3" y="46.1" text-anchor="end">20</text><text x="52.3" y="81.2" text-anchor="end">10</text><text x="52.3" y="115.8" text-anchor="end">0</text><text x="191" y="47.2" text-anchor="end">20</text><text x="191" y="81.2" text-anchor="end">10</text><text x="328.6" y="40.8" text-anchor="end">30</text><text x="328.6" y="66.4" text-anchor="end">20</text><text x="328.6" y="91.0" text-anchor="end">10</text><text x="51.3" y="172.8" text-anchor="end">50</text><text x="51.3" y="203.5" text-anchor="end">30</text><text x="51.3" y="234.3" text-anchor="end">10</text><text x="193" y="174.8" text-anchor="end">50</text><text x="193" y="204.8" text-anchor="end">30</text><text x="193" y="234.8" text-anchor="end">10</text><text x="332" y="169.2" text-anchor="end">60</text><text x="332" y="196.8" text-anchor="end">40</text><text x="332" y="222.4" text-anchor="end">20</text><text x="53" y="291.8" text-anchor="end">80</text><text x="53" y="312.0" text-anchor="end">60</text><text x="53" y="332.0" text-anchor="end">40</text><text x="53" y="352.8" text-anchor="end">20</text><text x="53" y="374.4" text-anchor="end">0</text><text x="196.4" y="292.8" text-anchor="end">80</text><text x="196.4" y="312.8" text-anchor="end">60</text><text x="196.4" y="333.2" text-anchor="end">40</text><text x="196.4" y="354.2" text-anchor="end">20</text><text x="337" y="302.2" text-anchor="end">50</text><text x="337" y="330.8" text-anchor="end">30</text><text x="337" y="359.4" text-anchor="end">10</text><text x="53" y="421.0" text-anchor="end">40</text><text x="53" y="453.3" text-anchor="end">20</text><text x="53" y="487.6" text-anchor="end">0</text><text x="195" y="437.8" text-anchor="end">20</text><text x="195" y="462.8" text-anchor="end">10</text><text x="336.4" y="437.8" text-anchor="end">20</text><text x="336.4" y="462.8" text-anchor="end">10</text></g>
<g font-size="17" fill="#000" stroke="#000" stroke-width="0.28"><text x="74" y="23.0">(a)</text><text x="94" y="23.0">λ=865</text><text x="144.5" y="23.0">nm</text><text x="215" y="23.0">(b)</text><text x="240" y="23.0">λ=870</text><text x="290" y="23.0">nm</text><text x="350.4" y="23.0">(c)</text><text x="376" y="23.0">λ=875</text><text x="426" y="23.0">nm</text><text x="73" y="152.2">(d)</text><text x="97" y="152.2">λ=880</text><text x="147.6" y="152.2">nm</text><text x="213.6" y="152.2">(e)</text><text x="238" y="152.2">λ=885</text><text x="288.4" y="152.2">nm</text><text x="353" y="152.2">(f)</text><text x="378" y="152.2">λ=890</text><text x="428" y="152.2">nm</text><text x="75.6" y="276.6">(g)</text><text x="100" y="276.6">λ=895</text><text x="151" y="276.6">nm</text><text x="214.4" y="276.6">(h)</text><text x="239" y="276.6">λ=900</text><text x="290" y="276.6">nm</text><text x="355.6" y="276.6">(i)</text><text x="380" y="276.6">λ=905</text><text x="430" y="276.6">nm</text><text x="74.4" y="402.20000000000005">(j)</text><text x="99" y="402.20000000000005">λ=910</text><text x="151" y="402.20000000000005">nm</text><text x="211.6" y="402.20000000000005">(k)</text><text x="237" y="402.20000000000005">λ=915</text><text x="286.6" y="402.20000000000005">nm</text><text x="354.4" y="402.20000000000005">(l)</text><text x="379" y="402.20000000000005">λ=920</text><text x="430" y="402.20000000000005">nm</text></g>
<g font-size="15" fill="#000" stroke="#000" stroke-width="0.28"><text x="55.5" y="499.5">400</text><text x="99" y="499.5">450</text><text x="140" y="499.5">500</text><text x="55.5" y="519">800</text><text x="99" y="519">900</text><text x="136.5" y="519">1000</text><text x="200.8" y="500.6">400</text><text x="244" y="500.6">450</text><text x="285" y="500.6">500</text><text x="200.8" y="520.4">800</text><text x="244" y="520.4">900</text><text x="281" y="520.4">1000</text><text x="339.2" y="501.6">400</text><text x="381.8" y="501.6">450</text><text x="421" y="501.6">500</text><text x="338.6" y="521.1">800</text><text x="381.6" y="521.1">900</text><text x="416.8" y="521.1">1000</text></g>
<g fill="#000" stroke="#000" stroke-width="0.28"><text x="453" y="502.8" font-size="20">λ</text><text x="463.3" y="502.8" font-size="12.5">SHG</text><text transform="translate(494.2,503) scale(1.09,1)" font-size="20">(nm)</text><text x="453" y="522" font-size="20">λ</text><text x="463.3" y="522" font-size="12.5">PUMP</text><text transform="translate(504.1,522) scale(1.08,1)" font-size="20">(nm)</text></g>
<text transform="translate(23.6,478.6) rotate(-90)" font-size="22" fill="#000" stroke="#000" stroke-width="0.28">SHG intensity (x 10<tspan dy="-9.5" font-size="11">3</tspan><tspan dy="9.5"> counts), Pump intensity (a.u.)</tspan></text>
</svg>
</body></html>
